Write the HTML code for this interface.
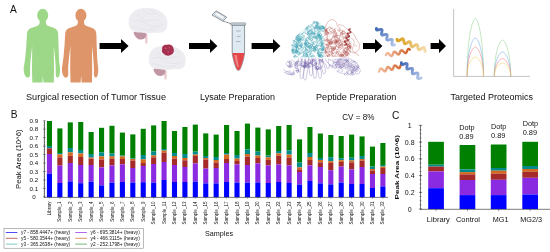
<!DOCTYPE html>
<html><head><meta charset="utf-8"><title>Figure</title>
<style>html,body{margin:0;padding:0;background:#fff}svg{display:block}text{font-family:"Liberation Sans",Arial,sans-serif;fill:#111}</style></head><body>
<svg width="550" height="252" viewBox="0 0 550 252">
<rect width="550" height="252" fill="#fff"/>
<text x="10" y="12.5" font-size="10.2">A</text>
<text x="10.8" y="118.3" font-size="10.2">B</text>
<text x="392" y="118.6" font-size="10.2">C</text>
<g transform="translate(0,0)" fill="#9dd888"><ellipse cx="42.7" cy="15.4" rx="5.5" ry="6.6"/><path d="M39.7,20 C39.7,23 39.5,24.6 38.5,25.2 C36,26.6 32.4,27.2 30,28.6 C27.8,30 27,32 26.9,35 C26.6,42 26.2,49 25.4,56 C25,60 24.6,62 24.2,65 C23.6,67 23.6,69.5 23.9,71.5 C24.3,74.5 25.2,76.6 26.6,77.4 C28,78 29.6,77.2 30,75.2 C30.2,73 29.9,70 30,67.5 C30.4,61 31.2,54 32.2,46 C32.2,54 32,62 32,70 L32.3,82.4 L42.4,82.4 L42.9,75.5 L43.4,82.4 L53.8,82.4 L54,70 C54,62 53.8,54 53.8,46 C54.8,54 55.4,61 55.7,67.5 C55.8,70 55.6,73 55.8,75.2 C56.1,77.2 57.2,78 58.2,77.4 C59.3,76.6 59.8,74.5 60,71.5 C60.2,69.5 60,67 59.6,65 C59.3,62 59.1,60 58.9,56 C58.6,49 58.4,42 58.2,35 C58.1,32 57.4,30 55.2,28.6 C53,27.2 49.6,26.6 47,25.2 C46,24.6 45.8,23 45.8,20 Z"/></g>
<g transform="translate(38.2,0)" fill="#de956a"><ellipse cx="42.7" cy="15.4" rx="5.5" ry="6.6"/><path d="M39.7,20 C39.7,23 39.5,24.6 38.5,25.2 C36,26.6 32.4,27.2 30,28.6 C27.8,30 27,32 26.9,35 C26.6,42 26.2,49 25.4,56 C25,60 24.6,62 24.2,65 C23.6,67 23.6,69.5 23.9,71.5 C24.3,74.5 25.2,76.6 26.6,77.4 C28,78 29.6,77.2 30,75.2 C30.2,73 29.9,70 30,67.5 C30.4,61 31.2,54 32.2,46 C32.2,54 32,62 32,70 L32.3,82.4 L42.4,82.4 L42.9,75.5 L43.4,82.4 L53.8,82.4 L54,70 C54,62 53.8,54 53.8,46 C54.8,54 55.4,61 55.7,67.5 C55.8,70 55.6,73 55.8,75.2 C56.1,77.2 57.2,78 58.2,77.4 C59.3,76.6 59.8,74.5 60,71.5 C60.2,69.5 60,67 59.6,65 C59.3,62 59.1,60 58.9,56 C58.6,49 58.4,42 58.2,35 C58.1,32 57.4,30 55.2,28.6 C53,27.2 49.6,26.6 47,25.2 C46,24.6 45.8,23 45.8,20 Z"/></g>
<path d="M99.6,43 H121 V39 L128.6,46 L121,53 V49 H99.6 Z" fill="#000"/>
<path d="M189,43 H210 V39 L217.4,46 L210,53 V49 H189 Z" fill="#000"/>
<path d="M251.6,43 H273 V39 L280.4,46 L273,53 V49 H251.6 Z" fill="#000"/>
<path d="M363,43 H375 V39 L382.4,46 L375,53 V49 H363 Z" fill="#000"/>
<path d="M430.6,43 H439 V39 L446,46 L439,53 V49 H430.6 Z" fill="#000"/>
<g transform="translate(128.6,7.8) scale(1.0)">
<path d="M16.2,26 L19,26.5 L18.8,35.6 L16.6,35.6 Z" fill="#ecc9cd"/>
<path d="M5,24.5 C7,23.6 14,24 17.6,25 C18,28.5 16.4,31.6 12.6,31.8 C8.6,32 5.6,28.5 5,24.5 Z" fill="#c096a5"/>
<path d="M0.2,17 C-1,8 4,1.2 14,0.4 C22,-0.6 31,1 35.4,6.5 C39.6,11 40,19 36.8,22.6 C33,26 27,24.4 24,25 C20,26 16,25.4 12,24.8 C6,24.8 1,23 0.2,17 Z" fill="#ededf1"/>
<g fill="none" stroke="#dadae0" stroke-width="0.5"><path d="M4,14 C9,11 14,13 18,16 S28,20 34,17"/><path d="M8,6 C12,8 13,12 17,13 S26,10 30,13"/><path d="M15,2 C17,6 21,7 24,6 S30,6 33,9"/><path d="M3,19 C8,19 12,21 16,22 S24,22 28,21"/><path d="M21,1.5 C22,4 25,4 27,3"/></g>
</g>
<g transform="translate(148.6,45.6) scale(0.955)">
<path d="M16.2,26 L19,26.5 L18.8,35.6 L16.6,35.6 Z" fill="#ecc9cd"/>
<path d="M5,24.5 C7,23.6 14,24 17.6,25 C18,28.5 16.4,31.6 12.6,31.8 C8.6,32 5.6,28.5 5,24.5 Z" fill="#c096a5"/>
<path d="M0.2,17 C-1,8 4,1.2 14,0.4 C22,-0.6 31,1 35.4,6.5 C39.6,11 40,19 36.8,22.6 C33,26 27,24.4 24,25 C20,26 16,25.4 12,24.8 C6,24.8 1,23 0.2,17 Z" fill="#ededf1"/>
<g fill="none" stroke="#dadae0" stroke-width="0.5"><path d="M4,14 C9,11 14,13 18,16 S28,20 34,17"/><path d="M8,6 C12,8 13,12 17,13 S26,10 30,13"/><path d="M15,2 C17,6 21,7 24,6 S30,6 33,9"/><path d="M3,19 C8,19 12,21 16,22 S24,22 28,21"/><path d="M21,1.5 C22,4 25,4 27,3"/></g>
</g>
<g transform="translate(148.2,45.4)"><path d="M14,3.6 C13.4,0.6 16.4,-1.2 19,-0.6 C21.6,-1.4 25,0 25.2,3 C26.6,5.4 25,8.6 22.6,9.4 C20.6,10.8 17.4,10.4 15.8,8.6 C13.8,7.6 13.2,5.4 14,3.6 Z" fill="#a62e4e"/><g fill="#c0627c"><circle cx="17.4" cy="3" r="0.8"/><circle cx="21.4" cy="2.4" r="0.7"/><circle cx="20" cy="6.4" r="0.8"/><circle cx="23" cy="5.6" r="0.6"/></g></g>
<g stroke="#4f5860" stroke-width="0.6" stroke-linejoin="round">
<path d="M212,15 L216,10.8 L226.8,17.2 L223,21.2 Z" fill="#e4edf5"/>
<path d="M214,14.6 L216.6,12 L225,17 L222.6,19.6 Z" fill="#f4f8fb" stroke-width="0.3"/>
<path d="M223,21.2 L231,23.6" fill="none"/>
<path d="M232.2,25 L232.2,53 C233,59 234.6,64.6 236.2,68 C237.2,71.2 239.6,71.2 240.6,68 C242.2,64.6 243.8,59 244.6,53 L244.6,25 Z" fill="#dfe9f2"/>
<path d="M232.4,53 C233.2,59 234.8,64.6 236.4,68 C237.4,70.8 239.4,70.8 240.4,68 C242,64.6 243.6,59 244.4,53 Z" fill="#e4474a" stroke="none"/>
<path d="M234.4,55 C235,60 236.2,64 237.4,66.5 C237.8,68 238.6,68 238.6,66 C238,62 237.2,58 236.8,55 Z" fill="#ef8684" stroke="none"/>
<rect x="230.6" y="23" width="15" height="2" rx="0.6" fill="#e9f0f6"/>
<path d="M236,31 H240.6 M236,41.6 H240.6 M237,36.4 H240.6" fill="none" stroke-width="0.35"/>
</g>
<clipPath id="ct"><polygon points="291.5,57.6 291.5,42 296,36 303,30 309,24.5 315,20.8 320,23 324.5,27 324.5,57.6"/></clipPath><g clip-path="url(#ct)">
<path d="M314.2,21.3 313.0,21.4 312.3,22.3 312.8,23.3 313.9,23.6 314.9,23.1 315.2,22.0 314.3,21.2 313.2,21.4 312.8,22.5 313.6,23.3 314.6,22.8 314.4,21.7 313.2,21.6 M309.6,23.7 310.5,24.4 311.6,24.8 312.7,24.6 313.4,23.7 313.7,22.6 313.7,21.4 313.0,20.5 M314.8,22.0 315.4,22.9 316.3,23.6 317.4,24.0 317.7,25.1 317.1,26.1 316.0,26.4 315.3,25.5 315.5,24.4 316.2,23.5 317.3,23.0 317.4,21.9 316.4,21.5 315.7,22.4 316.4,23.3 317.5,23.4 318.3,22.5 317.8,21.5 316.7,21.7 M315.7,21.5 316.9,21.4 318.0,21.8 318.6,22.7 318.3,23.9 317.2,23.9 316.5,22.9 317.0,21.9 318.1,21.8 318.5,22.9 317.7,23.8 316.7,23.2 316.9,22.1 M321.0,23.7 319.9,24.1 318.8,24.1 317.9,23.5 317.2,22.5 316.8,21.5 316.6,20.3 317.0,19.3 M324.4,24.3 325.4,25.0 325.6,26.1 324.9,27.0 323.8,27.0 322.8,26.5 322.2,25.5 322.8,24.5 323.9,24.8 324.2,25.9 323.6,26.8 322.5,26.9 321.7,26.1 322.2,25.0 323.3,25.1 323.5,26.3 322.5,26.8 321.7,25.9 M306.9,25.6 307.6,26.5 307.7,27.6 306.9,28.5 305.8,28.4 305.5,27.3 306.5,26.7 307.5,27.3 307.1,28.4 306.0,28.8 305.7,29.9 306.6,30.6 M309.8,26.6 310.9,26.1 312.0,26.0 312.9,26.7 313.1,27.8 312.2,28.6 311.1,28.2 310.6,27.1 311.0,26.0 311.6,25.0 312.7,25.0 313.5,25.8 313.8,26.9 313.9,28.1 314.1,29.2 314.1,30.4 M314.6,26.7 315.4,26.0 316.5,25.4 317.5,25.0 318.7,25.0 319.6,25.7 320.2,26.7 320.8,27.7 321.5,28.5 320.9,29.5 319.8,29.5 319.3,28.5 319.5,27.4 320.1,26.4 320.9,25.5 M317.5,25.2 316.4,25.5 316.1,26.6 317.0,27.3 318.0,26.7 318.2,25.6 317.6,24.6 316.5,24.2 315.7,25.0 315.5,26.1 316.3,26.9 317.4,27.1 318.2,26.2 318.3,25.1 317.4,24.5 316.4,25.1 M321.0,26.1 319.8,26.0 319.4,27.0 320.0,28.0 321.2,28.0 321.4,26.9 320.4,26.3 319.6,27.1 320.2,28.1 321.3,27.8 321.3,26.7 322.4,26.2 323.5,26.4 M323.5,24.8 324.7,24.5 325.6,25.1 325.5,26.3 324.8,27.1 323.7,27.0 323.4,25.9 324.1,25.0 325.2,24.9 325.7,25.9 324.9,26.7 323.9,26.2 323.0,26.8 322.6,27.9 323.4,28.8 324.6,28.6 324.7,27.5 323.8,26.8 322.8,27.2 322.9,28.4 M324.7,24.5 324.4,25.7 323.9,26.7 323.8,27.8 324.4,28.8 325.6,28.7 326.2,27.8 325.9,26.7 324.9,26.0 323.8,26.2 323.0,27.0 322.9,28.2 323.0,29.3 323.5,30.3 M303.5,27.4 303.6,28.6 302.7,29.2 301.8,28.5 M307.5,28.2 306.4,27.8 306.0,26.8 306.3,25.7 307.2,25.1 308.4,25.3 309.4,25.8 309.9,26.9 309.3,27.9 308.2,28.1 307.1,27.9 306.7,26.8 307.5,26.0 308.5,26.6 M311.1,29.3 311.8,30.2 311.7,31.3 310.6,31.6 309.7,30.8 309.5,29.7 310.4,28.9 311.5,29.0 312.2,29.9 312.3,31.1 312.3,32.2 311.9,33.3 311.1,34.1 309.9,34.4 308.9,33.9 308.1,33.1 307.4,32.1 307.2,31.0 M312.4,29.8 311.4,30.2 310.3,30.7 309.2,30.8 308.1,30.6 307.4,29.6 307.2,28.5 307.5,27.4 308.5,26.8 308.6,25.7 307.9,24.7 307.0,24.0 308.2,24.0 309.0,23.3 M317.5,27.9 316.9,28.8 315.8,28.4 315.8,27.2 316.7,26.5 317.9,26.5 318.8,27.2 319.3,28.2 319.3,29.3 320.2,30.0 321.2,29.5 320.9,28.4 M319.5,30.0 319.6,28.9 320.0,27.8 319.3,26.9 318.1,26.8 317.5,27.7 317.6,28.9 318.7,29.3 319.5,28.5 318.9,27.5 317.7,27.5 317.5,28.7 318.5,29.2 319.3,28.4 319.0,27.3 318.0,26.6 316.9,27.0 316.7,28.1 M323.8,27.7 323.7,28.8 324.5,29.6 325.6,29.4 325.7,28.2 324.6,27.9 323.9,28.8 324.7,29.7 325.8,29.6 326.3,28.5 325.4,27.8 324.5,28.4 324.8,29.6 325.9,29.5 326.2,28.4 325.2,27.8 324.4,28.6 325.0,29.7 326.1,29.6 325.6,30.7 M325.1,28.6 324.8,27.5 323.9,26.8 322.8,26.4 321.7,26.6 320.9,27.5 321.4,28.5 322.4,29.0 323.5,28.6 324.2,27.7 324.5,26.6 325.0,25.5 325.1,24.4 M302.6,30.7 301.4,30.6 300.5,29.9 300.9,31.0 300.6,32.2 299.9,33.1 299.1,33.9 298.3,34.7 297.5,35.6 296.6,36.3 295.8,37.1 295.4,38.2 295.3,39.3 296.3,40.0 297.4,40.0 298.2,40.8 298.6,41.9 298.1,43.0 M303.9,31.6 303.7,32.8 302.9,33.5 301.8,33.9 300.7,34.2 299.6,34.6 298.6,35.1 297.8,35.9 297.2,36.9 297.1,38.0 297.2,39.2 297.9,40.1 299.0,40.4 300.1,40.1 300.6,39.0 300.1,38.0 299.0,38.0 298.6,39.0 299.5,39.7 300.6,39.3 300.7,38.2 M308.7,30.7 309.7,31.2 310.5,32.0 310.5,33.2 310.2,34.3 309.4,35.1 308.2,35.2 307.4,34.4 307.2,33.3 308.1,32.6 309.1,33.2 309.1,34.3 308.0,34.6 306.9,34.1 306.8,33.0 307.8,32.5 308.5,33.4 M311.3,30.7 310.1,30.9 309.0,31.1 308.0,31.7 308.1,32.8 309.2,33.1 309.8,32.1 309.2,31.1 308.1,31.3 307.9,32.5 309.0,32.9 M312.4,33.0 311.2,33.1 310.1,33.3 309.2,34.0 308.8,35.1 309.1,36.2 310.2,36.5 310.8,35.6 310.3,34.5 309.2,34.8 309.1,35.9 310.2,36.3 311.2,35.7 311.7,34.7 312.1,33.6 312.8,32.7 313.4,31.7 314.6,31.8 315.3,32.8 314.9,33.9 M316.6,30.9 317.6,30.3 317.8,29.2 317.1,28.3 315.9,28.4 315.1,29.2 314.1,28.6 314.3,27.5 315.5,27.4 316.1,28.3 315.4,29.2 314.3,28.8 314.0,27.7 314.8,26.9 315.9,26.7 316.6,27.6 316.2,28.6 315.0,28.4 314.9,27.3 316.0,26.9 M318.8,31.0 318.2,30.0 317.5,29.1 317.8,28.0 318.9,27.5 319.9,28.0 320.6,28.9 320.5,30.0 319.9,31.1 318.9,31.6 317.9,32.1 316.7,32.2 315.7,31.6 314.8,30.9 314.4,29.9 314.6,28.7 M322.6,31.6 323.7,31.7 324.7,31.2 325.1,30.1 324.4,29.1 323.3,29.1 322.4,29.8 322.6,30.9 321.7,31.6 320.5,31.5 319.9,30.6 M326.1,31.4 325.9,30.3 325.4,29.3 324.5,28.6 323.3,28.4 322.2,28.3 321.0,28.5 319.9,28.5 318.7,28.3 317.8,27.6 317.1,26.8 316.9,25.6 317.3,24.6 318.1,23.7 M298.0,33.3 298.0,32.2 299.1,32.3 299.9,31.4 300.0,30.2 300.8,29.5 302.0,29.3 303.1,29.1 304.2,29.4 305.0,30.2 305.2,31.4 305.4,32.5 305.7,33.6 M302.0,33.1 302.0,34.2 301.9,35.4 301.9,36.5 302.8,37.2 304.0,37.1 304.5,36.1 303.7,35.3 302.6,35.4 301.8,34.5 302.2,33.4 303.2,32.8 304.3,32.8 305.4,33.2 306.4,33.8 307.2,34.6 M304.0,34.9 304.3,36.0 303.9,37.1 303.0,37.8 302.0,38.3 301.1,39.1 300.7,40.1 300.8,41.3 301.0,42.4 301.4,43.5 301.7,44.6 301.7,45.7 301.7,46.9 301.3,48.0 300.4,48.6 299.3,48.7 298.2,48.2 297.7,47.2 297.5,46.1 M307.4,35.1 307.9,34.0 308.2,32.9 308.2,31.8 307.5,30.8 306.8,29.9 306.0,29.0 305.1,28.4 303.9,28.2 303.0,28.8 302.2,29.6 301.3,30.4 300.9,31.5 M310.7,33.7 311.5,32.8 311.5,31.7 311.0,30.6 310.3,29.8 309.2,29.4 308.1,29.2 306.9,28.9 306.0,28.3 305.4,27.3 305.2,26.2 M312.7,34.2 313.0,33.1 314.1,32.8 314.8,33.7 314.2,34.6 313.0,34.8 312.5,33.7 313.1,32.8 314.3,33.0 314.8,34.0 314.0,34.8 312.8,34.6 312.0,33.8 311.5,32.8 311.7,31.7 312.8,31.4 313.6,32.2 313.0,33.2 311.9,32.9 311.0,33.6 311.2,34.7 M316.3,33.8 315.6,34.7 314.5,34.2 314.3,33.1 314.7,32.0 315.4,31.1 316.5,30.7 317.6,30.5 318.7,30.9 319.6,31.6 319.9,32.7 319.1,33.6 318.0,33.4 318.0,32.2 319.1,31.9 319.7,32.8 319.0,33.7 317.9,33.2 318.1,32.1 M318.4,35.6 319.5,35.9 320.7,35.7 321.4,34.8 321.2,33.6 320.1,33.4 319.4,34.3 319.5,35.4 320.5,36.1 321.5,35.5 321.5,34.4 320.6,33.7 319.7,34.3 319.9,35.4 321.1,35.5 321.6,36.5 321.2,37.6 M322.3,35.4 321.1,35.5 320.0,35.6 318.8,35.5 317.7,35.8 316.8,36.5 316.1,37.4 315.7,38.4 314.5,38.6 313.5,38.0 313.3,36.9 313.8,35.8 314.8,35.3 315.8,36.0 315.8,37.2 314.9,38.0 313.8,37.9 312.9,37.2 M325.2,34.6 325.2,33.5 324.5,32.6 323.6,31.8 322.8,31.1 321.8,30.4 320.8,29.9 320.8,28.7 321.4,27.8 322.2,27.0 323.3,26.7 324.4,27.2 324.4,28.3 323.4,28.8 322.6,28.0 323.3,27.0 324.4,27.4 324.3,28.5 M295.9,37.2 296.0,36.0 297.1,35.6 298.0,36.2 297.9,37.4 296.8,37.6 296.0,36.8 296.3,35.7 297.4,35.3 298.2,36.2 298.2,37.3 M300.7,38.4 301.8,38.7 302.4,37.7 301.8,36.8 300.7,37.2 300.5,38.3 301.2,39.2 302.1,40.0 303.2,39.6 303.4,38.5 302.9,37.5 301.9,37.0 300.8,36.6 299.6,36.5 298.5,36.2 297.8,35.3 298.1,34.2 299.2,33.9 M301.6,38.1 301.0,39.1 300.1,39.8 299.0,40.1 297.9,39.6 297.3,38.7 297.7,37.6 298.8,37.4 299.3,38.4 298.8,39.4 297.9,40.1 296.8,39.9 296.0,39.1 296.1,38.0 296.9,37.2 298.1,37.3 298.4,38.4 297.5,39.1 296.5,38.6 296.8,37.5 M306.5,36.8 307.5,37.4 308.6,37.8 309.7,37.9 310.2,38.9 309.3,39.7 308.4,39.0 308.8,37.9 309.9,37.7 310.5,38.7 309.8,39.6 308.7,39.1 308.4,38.0 308.9,37.0 M308.4,38.2 309.1,39.2 310.0,39.8 311.0,40.3 312.0,40.9 312.7,41.9 313.3,42.8 313.8,43.9 314.5,44.8 315.5,45.4 316.5,44.9 317.0,43.8 317.1,42.7 316.5,41.7 315.3,41.5 314.2,41.7 M311.1,37.8 312.2,37.5 313.3,37.1 314.4,36.8 315.5,37.1 316.6,37.5 317.8,37.5 318.8,37.0 319.5,36.1 320.0,35.1 319.2,34.2 318.2,34.7 318.1,35.8 319.1,36.3 319.9,35.5 319.3,34.5 318.2,34.8 M312.4,38.0 313.6,38.0 313.9,36.9 313.1,36.1 311.9,35.9 311.3,34.9 311.5,33.8 312.2,32.9 313.3,32.7 314.3,33.3 314.7,34.3 314.5,35.4 314.2,36.5 313.9,37.6 M316.0,36.2 315.7,37.4 316.3,38.4 317.2,39.0 318.4,39.0 319.2,38.2 319.1,37.1 318.0,36.8 317.0,37.4 316.5,38.4 316.8,39.5 317.7,40.2 318.7,40.6 M319.2,36.0 318.9,37.2 319.2,38.3 320.3,38.4 321.0,37.5 320.3,36.6 319.2,36.8 319.1,38.0 320.2,38.3 320.9,37.4 320.6,36.3 319.4,36.0 318.6,36.8 M321.3,37.1 320.5,36.3 319.4,36.1 318.5,36.8 317.6,36.1 317.5,35.0 318.1,34.0 319.3,34.1 319.5,35.2 318.5,35.7 317.5,35.2 316.3,35.5 315.4,36.1 314.8,37.1 315.2,38.2 316.4,38.2 316.9,37.2 316.2,36.4 315.1,36.8 315.0,38.0 315.7,38.9 M324.1,36.3 323.0,36.7 322.0,37.2 321.1,37.8 320.2,38.6 319.5,39.5 319.5,40.7 320.0,41.7 321.1,41.7 321.4,40.6 320.4,40.0 319.3,40.4 318.6,41.3 319.2,42.3 320.3,42.4 M293.1,40.4 294.2,40.9 295.2,41.4 296.0,42.2 296.7,43.1 296.2,44.1 295.1,43.8 294.1,44.4 294.0,45.6 294.3,46.7 295.2,47.4 296.3,47.1 297.1,46.3 297.1,45.1 296.4,44.2 295.3,44.4 295.1,45.5 296.1,46.0 296.9,45.2 M297.4,40.6 296.6,39.8 296.4,38.7 297.0,37.7 297.7,36.8 298.4,35.9 299.4,35.3 300.5,35.6 300.8,36.7 299.9,37.5 298.9,36.9 298.0,37.5 298.1,38.6 299.3,38.9 M298.9,41.0 298.5,40.0 299.2,39.0 300.3,39.2 300.5,40.3 299.4,40.8 298.7,39.9 299.3,38.9 300.4,39.3 300.7,40.4 300.4,41.5 299.6,42.3 298.5,42.0 298.1,40.9 299.0,40.2 300.0,40.8 299.9,41.9 298.9,42.5 297.9,42.0 297.6,40.9 298.4,40.2 M302.1,39.4 302.5,40.4 303.4,41.2 304.3,41.9 305.4,42.3 306.4,42.9 306.3,44.1 305.3,44.6 304.5,43.8 305.0,42.8 306.2,43.1 306.3,44.2 305.3,44.7 304.6,43.8 305.2,42.9 306.3,43.1 306.5,44.2 305.4,44.7 304.7,43.8 305.4,42.8 M304.7,40.4 305.8,40.2 306.8,40.8 307.1,41.9 306.1,42.5 305.2,41.8 305.3,40.6 306.3,40.1 307.4,40.4 308.0,41.4 307.2,42.2 306.0,42.2 305.6,41.1 306.2,40.1 305.9,39.0 304.8,38.5 M307.3,40.7 306.6,39.9 306.1,38.8 305.0,38.5 303.9,39.0 303.5,40.0 302.4,40.4 301.3,40.2 300.2,39.8 299.4,39.0 298.6,38.1 297.5,38.6 297.5,39.7 298.6,40.2 299.6,39.6 300.2,38.6 299.9,37.5 299.4,36.4 299.0,35.4 298.6,34.3 M310.1,39.7 310.6,38.7 311.7,38.4 312.6,39.0 312.5,40.1 311.3,40.3 310.8,39.3 311.6,38.5 312.6,38.9 312.6,40.1 311.8,40.9 310.7,41.2 309.5,41.2 308.5,40.7 M313.7,41.1 313.8,42.3 313.5,43.4 312.5,43.9 311.4,43.9 310.3,43.7 309.1,43.4 308.0,43.1 306.9,43.0 305.8,43.3 305.2,44.3 305.5,45.4 306.2,46.3 307.2,46.9 M316.2,40.0 317.3,39.7 317.6,38.6 316.7,37.9 316.5,36.8 316.9,35.7 317.7,35.0 318.9,35.0 319.6,36.0 318.9,36.9 317.8,37.0 317.3,35.9 317.8,34.9 318.9,34.9 M320.0,39.4 321.1,39.0 321.2,37.8 320.1,37.4 319.4,38.3 319.6,39.4 320.7,39.8 321.5,39.0 321.3,37.8 320.6,36.9 319.7,36.3 318.8,35.6 318.0,34.7 317.7,33.6 M321.2,39.7 321.0,38.6 320.9,37.5 320.6,36.4 320.0,35.4 319.1,34.6 318.1,34.2 317.0,33.9 315.9,33.5 314.7,33.5 313.6,33.5 312.4,33.5 M290.8,42.2 290.8,43.4 290.6,44.5 290.4,45.6 290.2,46.8 290.0,47.9 289.9,49.1 290.0,50.2 289.8,51.3 M293.7,42.7 294.4,41.8 295.5,41.5 296.6,41.9 297.0,43.0 297.0,44.1 296.8,45.3 296.4,46.4 296.1,47.5 296.1,48.6 295.2,49.4 294.1,49.2 293.7,48.1 M296.4,43.0 296.9,44.0 297.6,44.9 298.3,45.8 299.5,46.0 300.4,45.3 300.4,44.1 299.4,43.4 298.3,43.5 297.4,44.2 296.8,45.2 M299.8,42.8 300.3,43.8 301.4,44.2 302.5,44.0 303.6,43.8 304.6,43.2 305.1,42.2 305.6,41.2 306.2,40.1 306.5,39.0 306.8,37.9 307.4,37.0 308.4,36.3 309.5,36.5 309.7,37.7 310.8,37.9 M301.2,42.6 300.1,42.8 299.0,42.8 297.8,42.6 296.8,42.1 295.9,41.4 294.8,40.9 293.7,40.5 292.8,39.9 291.8,39.2 292.6,40.1 293.0,41.2 293.3,42.3 293.4,43.4 293.1,44.5 292.1,45.1 M304.4,43.0 304.8,44.1 305.3,45.1 306.3,45.7 307.4,45.6 308.3,44.8 308.5,43.6 308.0,42.6 306.9,42.3 306.4,43.3 306.9,44.4 308.0,44.7 308.8,43.9 308.6,42.7 M309.0,42.9 308.6,44.0 307.7,44.6 307.3,45.7 307.7,46.8 308.7,47.3 309.8,46.8 310.2,45.7 309.8,44.6 309.1,43.7 308.2,43.0 307.4,42.1 307.0,41.1 306.8,39.9 307.4,39.0 308.3,38.2 309.0,37.3 309.9,36.5 311.0,36.4 312.2,36.6 M310.8,44.2 310.5,43.0 311.1,42.1 312.3,42.2 313.1,43.0 313.2,44.1 312.2,44.8 311.1,44.8 310.0,44.5 309.2,43.7 308.6,42.7 M314.7,43.7 313.8,44.3 312.9,45.0 312.0,45.8 311.2,46.6 310.9,47.7 311.2,48.8 312.1,49.6 313.2,50.0 314.2,49.5 314.8,48.6 314.4,47.5 313.4,47.0 M317.4,42.1 317.5,43.3 318.4,44.0 319.5,44.0 320.6,43.7 321.4,42.8 321.6,41.7 321.6,40.5 321.0,39.5 321.7,38.6 322.8,38.8 323.2,39.9 322.4,40.7 321.4,40.2 321.6,39.1 M320.5,44.6 321.6,45.0 322.7,44.9 323.4,45.8 323.0,46.9 321.8,47.1 320.8,46.6 320.8,45.5 321.6,44.7 322.8,44.8 323.3,45.9 322.4,46.6 321.4,46.1 321.5,45.0 322.7,44.9 323.2,43.9 322.5,43.0 321.4,43.0 320.9,44.0 321.3,45.1 322.4,45.3 M323.6,42.7 323.0,43.7 321.9,43.7 321.4,42.7 322.2,41.8 323.3,42.2 323.8,43.3 323.1,44.2 321.9,44.2 321.4,43.1 321.7,42.1 322.4,41.1 323.4,40.6 324.5,40.3 325.7,40.1 324.6,39.7 323.6,39.0 323.1,38.0 322.6,36.9 M291.0,45.8 291.5,44.7 290.6,44.0 289.6,44.7 290.0,45.8 291.1,46.1 291.7,45.1 291.0,44.3 289.9,44.8 290.2,45.9 291.3,46.0 292.1,45.1 293.2,45.4 293.6,46.5 293.0,47.5 291.9,47.9 291.5,48.9 292.0,49.9 293.2,49.8 293.6,48.7 M295.0,45.3 293.8,45.0 292.7,45.2 292.1,46.1 292.6,47.2 293.8,47.3 294.3,46.3 295.4,46.0 296.1,46.8 297.3,46.9 298.4,46.5 299.0,45.6 298.9,44.4 298.0,43.7 296.9,43.9 M296.9,45.8 295.9,46.4 296.0,47.5 296.9,48.3 297.8,47.6 297.4,46.5 296.4,46.1 295.5,46.9 296.1,47.9 297.2,47.7 297.3,46.5 296.4,45.8 295.4,46.3 295.1,47.4 295.9,48.2 297.0,48.2 297.4,47.1 296.8,46.1 297.4,45.1 298.6,45.1 M300.7,47.2 300.3,46.1 299.5,45.3 298.6,44.6 297.9,43.7 297.1,42.8 296.9,41.7 297.4,40.6 298.5,40.4 299.6,40.8 300.5,41.4 301.5,42.1 302.3,42.9 302.6,44.0 302.5,45.2 301.7,46.0 M301.8,46.2 300.7,45.9 300.6,44.7 301.7,44.4 302.6,45.1 302.6,46.3 301.7,47.1 300.6,47.0 299.7,46.2 299.8,45.1 300.8,44.5 301.6,45.3 301.4,46.5 300.4,47.0 299.5,46.2 299.7,45.0 300.8,44.8 M304.9,46.7 304.0,47.5 303.2,48.3 302.5,49.1 301.7,50.0 300.8,50.8 299.8,51.3 298.7,51.3 297.6,50.8 296.8,50.0 295.6,49.9 294.9,50.8 295.3,51.9 296.3,52.4 297.3,51.9 297.6,50.8 296.6,50.2 295.5,50.6 294.8,51.5 294.6,52.7 295.3,53.6 M309.4,45.9 308.2,45.7 307.1,45.8 306.0,45.5 304.9,45.0 304.6,43.9 305.4,43.0 306.4,43.5 306.7,44.6 306.1,45.6 305.0,45.4 304.6,44.3 305.4,43.5 306.5,43.8 M311.4,46.8 311.5,47.9 312.5,48.4 313.3,47.5 314.4,47.3 315.2,48.1 315.4,49.3 314.7,50.2 313.7,50.9 312.6,51.2 311.6,50.7 311.6,49.5 312.4,48.8 313.6,48.6 314.7,48.7 315.8,48.9 316.8,49.6 317.3,50.6 317.8,51.7 317.9,52.8 317.2,53.7 M313.0,44.8 311.8,44.6 310.7,44.9 309.9,45.7 309.5,46.8 310.1,47.8 311.2,47.9 311.9,47.0 311.2,46.1 310.0,46.2 309.6,47.3 310.3,48.2 311.3,47.7 311.3,46.6 310.3,46.0 309.2,46.3 308.9,47.4 309.5,48.4 M317.9,45.2 319.0,45.6 320.2,45.7 321.3,46.1 322.3,45.6 323.1,44.8 323.2,43.6 322.4,42.8 321.3,43.1 321.4,44.3 322.5,44.6 323.4,43.9 M318.3,45.7 317.3,45.1 316.1,45.2 315.4,46.1 316.0,47.1 317.1,47.1 317.8,46.2 317.1,45.3 316.0,45.7 315.8,46.8 316.7,47.5 317.6,46.7 317.4,45.6 316.3,45.3 315.3,45.9 315.1,47.0 315.6,48.0 316.8,47.9 317.0,46.8 M321.6,45.6 320.7,46.4 319.6,46.3 318.8,45.5 319.0,44.4 319.7,43.4 320.4,42.6 321.0,41.6 321.2,40.4 321.1,39.3 320.5,38.3 319.5,37.9 318.3,37.9 317.4,38.5 316.7,39.4 316.2,40.5 M324.3,46.0 325.1,46.9 326.0,47.4 325.1,46.7 324.1,46.2 323.2,46.8 323.6,47.9 324.7,47.8 324.9,46.7 323.9,46.2 322.9,46.7 322.6,47.8 323.1,48.8 324.2,49.1 325.2,48.5 325.0,47.4 323.9,47.2 323.4,48.3 324.3,49.1 M294.4,49.8 294.0,50.9 292.9,51.1 292.1,50.2 292.8,49.2 293.9,49.6 294.1,50.7 293.1,51.3 292.1,50.8 291.7,49.7 292.6,49.0 293.5,49.6 293.1,50.7 292.0,50.6 291.8,49.5 292.8,49.0 293.6,49.8 293.0,50.8 291.9,50.5 291.9,49.3 293.0,49.0 M295.7,50.0 296.4,50.9 297.3,51.5 297.2,52.6 296.0,52.8 295.6,51.7 296.2,50.7 297.3,51.0 297.4,52.1 296.4,52.7 295.6,52.0 296.0,50.9 297.2,50.9 297.7,51.9 297.1,52.9 296.0,53.3 295.1,52.6 295.6,51.5 M299.4,48.2 299.1,49.3 298.4,50.3 297.6,51.0 296.5,51.3 295.6,50.6 295.6,49.4 296.5,48.7 297.6,48.7 298.7,49.0 299.9,49.1 300.9,49.6 301.6,50.5 301.8,51.6 301.5,52.8 300.8,53.6 299.6,53.6 M302.7,47.7 301.7,47.1 300.7,46.6 299.6,46.2 298.7,45.5 297.9,44.7 296.9,44.1 295.9,43.6 294.8,43.2 293.9,42.5 293.9,41.4 294.5,40.4 295.4,39.7 296.5,39.7 296.9,40.8 M305.4,50.4 304.2,50.5 303.7,51.5 303.8,52.6 304.4,53.6 305.6,53.8 306.5,53.1 307.4,53.8 307.4,54.9 306.8,55.9 305.8,56.4 304.8,55.8 305.1,54.7 306.2,54.5 307.0,55.4 306.7,56.5 305.6,56.6 305.2,55.5 306.1,54.7 M307.9,47.9 309.1,47.9 309.9,48.8 310.2,49.9 310.0,51.0 309.2,51.9 308.2,52.3 307.1,52.0 306.4,51.1 306.0,50.0 305.6,48.9 305.2,47.8 305.2,46.7 304.2,46.2 303.2,46.8 302.8,47.9 303.5,48.8 304.5,49.4 305.6,49.7 M310.6,50.3 310.2,49.2 309.9,48.1 309.3,47.1 308.4,46.4 307.2,46.3 306.1,46.6 305.9,47.7 306.7,48.4 307.7,47.8 307.6,46.6 306.5,46.4 305.7,47.3 305.8,48.5 306.3,49.5 307.2,50.2 308.4,50.2 M314.4,49.3 315.0,50.3 316.0,50.8 317.1,50.5 317.7,49.5 317.5,48.4 316.9,47.4 315.9,46.7 314.8,46.6 313.7,46.4 313.0,45.5 312.8,44.4 313.0,43.3 313.7,42.4 314.8,42.1 315.7,42.9 316.8,43.0 317.7,42.3 317.5,41.2 316.5,40.6 M316.4,49.0 315.3,48.6 314.2,48.7 313.4,49.5 313.7,50.6 314.8,51.0 315.8,50.3 315.4,49.2 314.3,49.2 313.8,50.3 314.5,51.1 M320.2,48.1 319.7,49.1 318.7,49.6 318.5,50.8 319.0,51.8 319.9,52.5 321.0,52.9 322.1,52.9 323.2,52.4 324.1,51.6 325.1,52.2 325.1,53.3 324.3,54.1 323.2,53.9 322.4,53.0 M323.7,50.4 324.4,49.5 323.9,48.4 322.9,48.0 321.8,48.4 321.4,49.5 321.7,50.6 322.9,50.9 323.8,50.2 323.3,49.2 322.2,49.0 321.7,50.0 320.6,50.3 319.7,49.6 320.1,48.5 M324.0,48.1 322.9,48.3 321.8,47.9 321.1,47.0 321.2,45.8 321.8,44.8 322.3,43.8 322.6,42.7 323.1,41.6 323.8,40.7 324.6,39.9 325.7,39.6 M294.9,51.1 293.8,51.1 292.7,50.9 291.9,50.1 290.8,50.5 290.5,51.6 291.5,52.3 292.4,51.7 292.1,50.6 290.9,50.6 290.4,51.6 291.3,52.4 292.2,51.8 291.9,50.7 M297.7,51.5 297.9,50.4 297.2,49.5 296.1,49.1 295.8,48.0 296.6,47.2 297.8,47.4 298.4,48.4 298.3,49.5 297.4,50.3 296.5,49.7 M298.1,51.9 297.2,51.2 296.1,51.3 295.5,52.3 296.3,53.1 297.5,53.1 297.9,52.0 297.4,51.0 296.3,50.8 295.3,51.3 295.0,52.4 295.9,53.1 296.8,52.5 296.5,51.4 M301.3,53.2 300.2,52.9 299.2,52.3 298.1,51.9 297.2,51.2 296.5,50.3 296.4,49.1 296.7,48.0 296.9,46.9 296.8,45.7 296.3,44.7 295.2,44.3 294.3,45.0 294.8,46.1 296.0,45.9 M304.9,51.4 305.9,50.8 306.0,49.6 305.7,48.5 305.2,47.5 305.1,46.3 305.2,45.2 306.1,44.5 307.3,44.6 308.1,45.3 308.6,46.4 308.8,47.5 309.0,48.6 309.4,49.7 310.1,50.6 310.7,51.6 311.8,51.4 312.3,50.4 M306.8,50.6 306.4,49.6 306.6,48.5 307.2,47.5 308.0,46.6 309.0,46.0 310.1,46.0 310.8,46.9 312.0,47.1 312.7,46.2 312.2,45.2 311.1,44.9 310.0,45.3 309.2,46.1 309.4,47.3 309.9,48.3 310.7,49.1 311.9,49.0 312.9,48.5 313.4,47.4 312.9,46.4 M311.6,51.5 311.5,52.6 310.5,53.2 309.3,53.3 308.5,52.5 308.9,51.4 310.0,51.5 310.7,52.4 310.6,53.5 309.9,54.5 308.9,54.9 307.7,54.7 306.8,53.9 306.9,52.8 M313.6,50.6 314.4,51.4 315.6,51.1 315.7,50.0 314.9,49.1 315.3,48.0 316.3,47.5 317.2,48.1 317.5,49.3 316.6,50.0 315.5,49.5 315.0,48.5 315.6,47.5 315.0,46.5 313.9,46.7 313.4,47.7 314.1,48.6 315.3,48.7 M315.4,52.9 314.6,52.1 313.9,51.2 313.4,50.1 313.9,49.1 314.9,48.5 314.8,47.3 313.7,47.1 313.2,48.2 314.0,48.9 315.0,48.3 314.8,47.2 313.8,46.6 312.6,46.5 M318.8,53.2 318.6,54.3 318.6,55.5 319.0,56.5 320.1,57.0 321.2,56.8 322.0,56.0 322.0,54.9 321.0,54.3 319.9,54.4 319.3,55.4 319.6,56.5 320.6,57.1 321.7,57.1 322.6,56.3 322.4,55.2 M323.2,53.2 322.6,52.3 321.5,52.1 320.7,52.9 320.5,54.0 321.0,55.0 321.9,55.8 323.0,56.3 324.1,56.1 325.0,55.4 325.8,54.6 M326.0,51.2 325.0,50.6 323.8,50.4 322.7,50.7 321.9,51.5 321.3,52.4 320.6,53.4 320.0,54.3 319.0,55.0 317.9,54.8 317.1,54.0 317.3,52.9 318.4,52.5 319.2,53.4 318.6,54.3 317.5,54.0 317.5,52.9 318.6,52.6 319.3,53.6 M294.0,53.8 292.9,53.4 292.9,52.3 294.0,52.0 294.6,53.0 294.1,54.0 292.9,53.8 292.8,52.7 293.7,52.0 293.5,50.9 292.4,50.8 292.0,51.9 292.6,52.9 293.7,52.5 294.2,51.5 M295.9,54.8 295.3,55.8 294.2,56.2 294.1,57.3 295.2,57.7 296.0,57.0 295.7,55.8 294.8,55.2 293.8,55.8 293.7,56.9 294.4,57.9 295.4,58.3 296.5,57.9 296.5,56.7 295.6,55.9 294.6,56.3 294.3,57.4 295.2,58.1 M299.6,53.6 298.5,53.2 297.7,54.0 298.2,55.0 299.3,54.9 299.8,53.9 298.9,53.1 297.9,53.7 298.1,54.8 299.2,55.1 300.2,54.5 300.7,53.5 300.3,52.4 299.1,52.3 298.3,53.1 M303.5,55.9 302.5,56.4 301.5,57.0 300.4,57.5 299.6,58.3 299.1,59.3 298.9,58.2 298.3,57.2 297.4,56.5 296.3,56.1 295.2,56.0 294.1,56.4 M303.9,56.0 304.4,57.0 304.4,58.2 304.4,59.3 M307.7,53.6 308.6,52.9 309.2,51.9 309.1,50.7 308.4,49.8 307.3,49.4 306.2,49.6 305.3,50.4 305.1,51.5 305.8,52.4 306.9,52.7 308.0,52.2 308.2,51.1 307.6,50.1 306.5,50.0 M311.6,56.0 310.6,55.5 309.8,54.7 309.7,53.5 310.6,52.9 311.8,53.1 312.6,53.9 312.9,55.0 312.2,55.9 311.2,56.5 310.0,56.5 309.4,55.5 310.0,54.6 311.2,54.7 311.8,55.7 311.5,56.8 310.6,57.6 309.5,57.8 308.5,57.2 M313.1,56.0 314.2,55.9 315.0,56.7 315.1,57.8 314.6,58.9 M317.7,55.8 317.9,54.7 317.8,53.5 317.7,52.4 317.7,51.2 318.0,50.1 318.8,49.3 319.7,48.5 320.8,48.2 321.9,47.9 323.0,47.8 324.1,47.3 325.0,46.7 325.9,45.9 325.3,46.9 324.9,48.0 324.5,49.0 323.7,49.9 322.5,49.8 321.5,49.2 320.5,48.7 M318.8,53.9 318.4,52.9 318.8,51.8 319.6,50.9 320.5,50.2 321.4,49.5 322.1,48.6 323.2,49.0 323.1,50.2 322.0,50.5 321.4,49.5 322.0,48.5 323.1,48.9 323.1,50.0 322.0,50.3 321.4,49.3 322.2,48.5 323.3,48.7 323.7,49.8 322.7,50.5 321.8,49.7 M321.1,54.8 322.3,54.9 323.0,55.8 322.8,56.9 321.8,57.5 320.6,57.4 319.7,56.7 319.2,55.6 318.9,54.6 318.8,53.4 318.7,52.3 318.7,51.1 318.9,50.0 318.9,48.8 M294.4,58.2 295.4,58.8 296.5,59.0 297.6,59.2 M300.7,57.6 301.7,57.2 302.8,56.6 303.6,55.9 303.9,54.8 303.8,53.6 303.4,52.5 303.0,51.5 302.8,50.3 302.4,49.2 301.8,48.3 301.2,47.3 301.0,46.2 300.9,45.0 M302.9,56.2 303.1,55.1 303.9,54.3 305.0,53.9 306.1,54.1 307.2,54.6 307.7,55.6 308.1,56.7 308.4,57.8 308.6,59.0 308.4,57.8 308.2,56.7 307.7,55.7 307.2,54.6 306.6,53.6 305.8,52.8 304.9,52.1 303.9,51.7 302.8,52.0 302.5,53.1 303.5,53.7 M304.1,56.9 305.2,57.3 306.1,58.0 306.2,59.1 306.4,58.0 306.8,56.9 307.4,56.0 307.2,54.8 306.1,54.6 305.3,55.5 305.7,56.6 306.9,56.5 M310.0,56.7 309.0,57.3 307.9,57.1 307.2,56.1 307.0,55.0 306.6,53.9 306.3,52.8 305.2,52.5 304.2,53.0 303.8,54.1 303.7,55.3 M315.1,58.7 314.1,59.2 312.9,59.3 312.0,58.5 312.0,57.4 312.7,56.5 313.8,56.8 313.8,58.0 312.7,58.3 312.0,57.4 312.2,56.3 313.1,55.5 314.2,55.4 315.0,56.2 M319.9,56.6 318.8,56.3 318.6,55.2 319.7,54.8 320.7,55.4 320.5,56.5 319.4,56.7 318.8,55.8 319.5,54.9 320.6,55.3 320.5,56.4 319.3,56.7 318.7,55.7 319.3,54.8 320.4,55.1 321.3,54.4 321.7,53.3 321.2,52.3 320.0,52.4 319.3,51.5 M323.6,56.5 323.0,57.4 321.9,57.8 320.8,57.9 319.6,57.7 318.7,57.0 318.7,55.8 319.8,55.4 320.5,56.3 319.8,57.2 318.7,56.8 318.8,55.7 319.8,55.1 320.7,55.8 320.3,56.8 319.1,56.7 318.9,55.6 319.7,54.8 320.8,55.1 321.4,56.1" fill="none" stroke="#45a6b8" stroke-width="0.5" stroke-opacity="0.68" stroke-linejoin="round" stroke-linecap="round"/>
</g>
<clipPath id="cr"><polygon points="324.7,57 324.7,29 330,26.5 338,27.5 344,30.5 349,36 351.5,46 350.5,56.5"/></clipPath><g clip-path="url(#cr)">
<path d="M327.3,27.5 326.9,26.4 327.6,25.4 328.8,25.2 329.7,26.0 329.3,27.1 328.1,27.2 327.2,26.5 327.1,25.3 328.2,24.8 329.0,25.6 M337.2,26.2 336.5,27.2 335.6,28.0 334.8,28.9 334.6,30.1 334.5,31.3 334.7,32.5 335.0,33.6 336.1,34.1 337.0,33.3 336.5,32.3 335.3,32.5 334.9,33.6 335.6,34.5 336.7,34.1 336.6,32.9 M325.7,28.6 326.4,29.6 326.9,30.7 327.4,31.8 327.2,33.0 326.2,33.6 325.1,33.1 324.1,33.7 324.4,34.9 325.6,34.9 325.9,33.7 324.9,33.1 324.0,33.9 324.6,35.0 325.8,35.3 326.6,34.4 M326.7,29.1 325.5,29.3 324.8,30.3 325.3,31.4 326.5,31.4 326.9,30.3 326.0,29.6 324.9,30.0 325.0,31.2 326.1,31.4 326.9,30.4 326.7,29.2 327.5,28.4 M331.5,29.0 330.4,28.6 329.5,29.5 329.4,30.7 330.4,31.5 331.6,31.5 332.3,30.6 332.5,29.4 331.8,28.4 330.7,27.8 329.5,27.7 328.4,28.1 327.3,28.6 326.4,29.4 325.8,30.4 326.1,31.6 327.1,32.3 328.3,32.3 M332.9,27.9 331.8,28.2 330.6,27.9 329.9,27.0 329.7,25.8 330.0,24.6 329.0,25.3 327.9,25.7 326.7,26.0 325.6,26.5 324.6,27.2 M338.2,28.5 337.5,29.5 337.9,30.6 339.0,31.0 340.0,30.3 340.5,29.2 340.7,28.0 340.5,26.8 M339.8,30.8 341.0,30.7 342.0,30.1 342.6,29.1 342.2,27.9 341.0,27.7 340.0,28.4 339.4,29.4 339.2,30.5 339.4,31.7 340.2,32.6 341.4,32.9 342.5,32.5 342.8,31.3 343.8,30.7 345.0,30.8 M342.5,30.2 342.6,31.4 342.6,32.6 342.3,33.7 341.5,34.6 340.3,34.5 340.2,33.3 341.3,32.8 342.1,33.6 343.3,33.6 344.5,33.2 345.6,32.8 346.8,32.5 347.7,31.8 346.8,32.6 345.7,32.3 345.4,31.1 346.3,30.4 347.3,31.1 346.9,32.2 M324.9,31.3 325.3,30.2 324.8,29.1 323.6,28.8 322.8,29.6 323.2,30.8 324.3,31.3 325.5,31.3 326.5,30.6 327.0,29.5 326.5,28.4 M327.1,31.5 326.2,30.7 325.0,30.6 324.3,31.5 324.9,32.6 326.1,32.5 326.3,31.4 325.3,30.8 324.5,31.7 325.1,32.7 326.3,32.9 327.3,32.2 327.6,31.1 326.7,30.2 325.5,30.4 324.7,31.3 M331.2,31.7 330.1,32.0 329.0,32.4 328.0,33.1 327.6,34.2 327.5,35.4 327.4,36.6 327.1,37.7 327.0,38.9 327.0,40.1 327.8,41.0 328.9,41.2 330.1,40.9 330.7,39.9 330.0,38.9 328.8,39.0 327.9,39.8 327.6,40.9 328.4,41.9 M333.6,31.2 334.4,32.1 335.5,31.7 335.5,30.5 334.6,29.7 333.5,30.3 333.6,31.5 334.8,32.0 335.5,31.0 335.1,29.8 334.1,29.3 333.1,30.0 M337.4,33.7 336.7,34.7 336.6,35.9 336.8,37.1 337.5,38.0 338.4,38.9 339.3,39.6 340.5,39.8 341.7,39.6 342.7,39.0 343.2,37.9 343.2,36.7 342.7,35.6 342.2,34.5 M340.8,33.7 340.6,34.9 340.2,36.0 339.8,37.1 339.5,38.3 339.3,39.5 339.0,40.6 338.2,41.5 337.1,42.0 336.0,41.5 335.3,40.5 334.9,39.4 334.5,38.2 334.7,37.0 335.2,35.9 335.8,34.9 M345.4,32.1 344.3,31.6 343.1,31.5 342.0,31.8 341.1,32.6 341.2,33.8 342.0,34.7 343.2,34.5 344.0,33.7 344.3,32.5 344.4,31.3 344.2,30.1 343.9,28.9 343.3,27.9 342.3,27.3 M323.5,37.1 324.2,38.1 325.4,38.1 326.4,37.4 327.4,38.0 327.4,39.2 326.6,40.1 325.4,40.5 324.2,40.3 323.2,39.6 323.6,40.7 M328.2,36.3 327.0,35.9 326.3,35.0 326.3,33.8 327.0,32.8 328.0,32.2 328.9,33.0 328.7,34.1 327.5,34.3 326.9,33.3 327.3,32.2 328.5,32.3 328.8,33.4 327.9,34.2 326.8,33.6 M329.4,34.6 330.5,34.0 330.9,32.9 332.0,32.3 333.1,32.8 333.7,33.8 333.6,35.0 333.1,36.1 332.5,37.1 331.9,38.2 331.6,39.4 331.8,40.5 332.1,41.7 332.2,42.9 331.4,43.8 M335.6,34.9 334.7,35.8 334.1,36.8 333.3,37.6 332.3,38.3 331.4,39.2 330.4,39.8 329.3,40.2 328.2,40.7 327.5,41.7 326.3,41.7 325.8,40.6 326.2,39.5 327.4,39.1 328.4,39.8 328.9,40.9 M339.0,35.9 337.9,35.5 336.7,35.5 335.8,36.3 336.2,37.5 337.3,37.7 337.9,36.6 337.0,35.8 336.0,36.4 336.3,37.6 337.5,37.7 M341.8,36.0 342.4,37.1 343.4,37.6 344.6,38.0 345.8,38.2 347.0,38.0 348.0,37.3 349.0,36.7 349.7,35.7 349.5,34.5 348.4,34.1 347.4,34.9 347.3,36.1 348.1,36.9 349.3,37.0 350.4,36.4 351.3,35.6 351.0,36.8 351.1,38.0 M344.6,36.3 345.7,35.7 346.3,34.6 346.6,33.5 347.3,32.5 348.4,32.0 347.5,31.2 347.2,32.3 346.0,32.7 345.3,31.8 345.9,30.8 347.1,30.9 347.7,31.9 347.2,33.0 346.1,33.6 344.9,33.8 343.7,33.8 342.5,33.7 341.8,32.8 342.0,31.6 343.0,31.0 M346.0,37.5 345.9,38.7 346.6,39.7 347.8,39.6 348.8,39.0 349.7,38.2 350.2,37.1 349.6,36.0 348.5,35.5 347.3,35.6 346.6,36.6 347.2,37.6 348.4,37.4 348.5,36.2 347.5,35.5 346.3,35.7 345.5,36.6 345.0,37.7 345.3,38.9 346.0,39.8 M351.2,36.6 350.1,35.9 349.7,34.8 349.6,33.6 M323.2,38.8 323.2,37.6 323.7,36.5 324.4,35.5 324.7,34.4 324.6,33.2 323.9,32.2 323.1,31.3 M327.2,39.8 326.0,39.9 324.9,40.3 324.3,41.3 324.2,42.5 324.6,43.6 325.6,44.4 326.8,44.4 327.9,44.2 329.0,43.6 329.8,42.7 329.8,41.5 329.3,40.4 328.2,39.9 327.2,40.5 327.2,41.7 328.0,42.5 329.2,42.8 330.3,42.3 330.5,41.2 M332.2,38.9 331.2,39.6 330.9,40.8 330.9,42.0 330.7,43.2 329.6,43.4 329.0,42.3 329.6,41.3 330.8,41.0 332.0,41.1 332.9,41.9 333.1,43.1 332.2,43.9 331.2,43.3 331.2,42.1 332.4,41.8 333.0,42.9 332.1,43.7 330.9,43.4 330.8,42.2 331.9,41.7 M335.7,38.2 334.9,37.3 334.9,36.1 334.1,35.3 333.0,35.9 332.9,37.1 334.0,37.6 335.0,36.9 335.3,35.8 335.0,34.6 334.6,33.4 333.9,32.5 332.8,32.1 331.8,32.8 332.1,34.0 M337.5,40.4 338.1,41.4 337.2,42.2 336.2,41.6 336.3,40.4 337.4,40.0 338.1,41.0 337.6,42.1 336.4,41.9 336.2,40.7 337.2,40.1 338.3,40.4 338.7,41.6 M339.7,38.0 338.6,38.7 337.6,39.3 336.6,40.0 335.5,39.5 335.0,38.5 335.1,37.3 335.6,36.2 336.5,35.3 337.6,35.2 338.8,35.4 340.0,35.8 341.1,36.2 M343.0,40.6 343.4,39.4 343.8,38.3 344.4,37.3 345.2,36.4 346.0,35.5 346.7,34.5 347.5,33.7 348.5,32.9 M347.8,40.1 349.0,39.8 350.1,39.5 351.3,39.1 350.1,39.3 348.9,39.6 348.5,40.7 349.0,41.8 349.9,42.5 349.7,43.7 348.5,43.8 347.7,42.9 348.4,41.9 349.6,41.9 350.0,43.1 M350.5,39.1 350.1,40.2 350.2,41.4 351.0,42.3 352.2,42.5 351.0,42.8 350.1,43.5 349.7,44.7 349.4,45.8 349.9,46.9 351.1,47.2 352.2,46.8 353.0,45.9 352.5,44.8 351.3,44.9 M328.1,41.7 329.1,42.4 329.7,43.5 329.1,44.5 327.9,44.8 327.2,43.8 328.0,42.9 329.2,43.0 329.5,44.1 328.8,45.1 327.6,45.4 M330.0,43.7 329.9,42.5 330.8,41.8 332.0,42.1 332.3,43.3 331.7,44.4 330.6,44.7 329.5,44.3 329.3,43.1 330.4,42.6 331.1,43.5 330.5,44.5 329.3,44.1 329.3,42.9 330.5,42.6 331.1,43.6 330.3,44.5 329.2,43.9 329.3,42.7 330.1,41.9 M335.2,43.1 335.5,41.9 335.2,40.8 334.2,40.1 333.1,40.4 332.4,41.4 332.5,42.6 332.9,43.7 334.0,44.3 335.2,44.0 336.2,43.4 336.7,42.3 336.9,41.1 336.3,40.1 336.7,39.0 337.9,38.8 338.8,39.6 338.5,40.8 M336.8,42.7 337.1,41.5 336.1,40.9 335.2,41.7 335.7,42.8 336.9,42.6 337.3,41.4 336.8,40.3 335.8,39.7 334.7,40.0 333.7,40.8 333.7,42.0 334.5,42.9 335.6,43.1 336.8,43.1 337.7,42.3 M339.9,42.7 339.7,43.9 340.7,44.4 341.6,43.5 341.3,42.4 340.2,41.9 339.3,42.8 339.6,43.9 340.5,44.7 341.7,44.8 342.5,43.9 342.9,42.7 342.6,41.5 341.7,40.9 340.5,40.8 339.4,41.3 M345.6,41.3 344.6,40.6 343.7,41.4 344.1,42.5 345.3,42.3 345.5,41.1 344.4,40.7 343.6,41.6 344.2,42.7 345.3,43.1 346.5,43.2 347.7,43.2 348.4,44.2 347.9,45.3 346.7,45.5 345.8,44.7 M346.4,43.8 347.2,44.7 348.4,44.5 349.1,45.4 348.6,46.5 347.4,46.5 347.1,45.3 348.1,44.6 349.0,45.4 348.5,46.5 347.3,46.3 347.2,45.1 348.0,44.3 349.1,44.9 349.2,46.1 348.3,46.9 347.1,46.5 346.4,45.6 345.2,45.4 344.0,45.6 342.8,45.8 M351.4,43.5 350.9,44.6 350.4,45.7 350.3,46.9 350.8,47.9 351.6,48.8 352.7,49.4 352.0,48.4 351.3,47.4 351.8,46.3 353.0,46.2 353.6,47.3 353.1,48.3 351.9,48.4 M324.0,45.5 324.6,44.5 324.1,43.4 323.0,42.9 324.0,42.2 324.2,41.0 323.2,40.3 324.4,40.3 324.9,39.3 324.0,38.5 322.9,38.9 M327.1,47.0 327.8,46.0 329.0,45.8 330.1,46.2 330.4,47.4 329.5,48.2 328.3,48.0 328.1,46.9 328.8,45.9 330.0,45.8 331.1,46.3 331.4,47.5 330.5,48.3 M332.3,47.4 331.8,48.5 331.7,49.7 331.5,50.9 331.6,52.1 331.5,53.3 331.6,54.5 332.1,55.6 332.9,56.5 333.6,57.4 334.2,58.5 M335.4,46.7 335.4,47.9 334.9,49.0 333.8,49.5 332.9,48.7 333.5,47.6 334.6,47.8 335.0,49.0 334.0,49.6 333.1,48.8 333.6,47.7 334.8,47.6 335.4,48.7 335.1,49.8 334.1,50.5 M336.2,45.3 335.1,44.7 334.6,43.7 334.3,42.5 334.3,41.3 335.4,40.9 336.5,41.5 336.3,42.7 335.2,43.1 334.6,42.1 335.4,41.2 336.4,41.7 336.3,42.9 335.1,43.1 334.6,42.0 M342.3,47.1 341.5,46.2 340.5,45.5 339.3,45.4 338.4,46.2 338.3,47.4 339.2,48.1 340.4,47.8 340.9,46.7 340.7,45.5 339.7,44.8 338.6,45.1 338.0,46.2 337.8,47.4 338.6,48.2 339.7,47.7 M342.9,46.3 342.7,45.1 342.5,43.9 342.0,42.8 341.4,41.8 340.5,41.0 339.4,40.6 338.2,41.0 337.9,42.1 338.9,42.8 340.0,42.5 340.5,41.4 340.2,40.2 339.4,39.2 338.4,38.6 M347.6,46.3 348.8,46.6 349.6,45.7 349.2,44.6 350.0,43.7 351.2,43.9 352.0,44.9 352.0,46.1 351.4,47.1 350.4,47.8 349.3,47.4 349.0,46.3 350.0,45.7 350.9,46.5 350.5,47.7 349.3,47.6 348.6,46.6 M352.2,44.4 351.3,45.2 350.3,45.9 349.2,46.3 348.0,46.5 347.3,47.5 347.8,48.5 349.0,48.7 349.9,47.9 349.5,46.8 348.4,46.4 347.3,47.0 347.5,48.2 348.5,48.8 349.6,48.3 349.6,47.1 348.5,46.6 347.5,47.3 347.5,48.5 M328.3,49.2 328.3,48.0 327.4,47.1 326.3,47.6 325.8,48.7 326.6,49.6 327.7,49.0 327.6,47.8 326.5,47.4 325.4,47.8 324.8,48.9 325.1,50.1 325.8,51.1 326.7,51.8 327.8,52.2 329.0,52.2 M331.4,48.3 332.4,49.0 333.3,48.2 332.8,47.1 331.6,47.2 331.4,48.4 332.4,49.1 333.4,48.5 334.3,49.3 334.0,50.4 332.8,50.5 332.1,49.6 332.6,48.5 333.7,48.2 334.3,49.2 333.5,50.1 M335.4,48.7 335.5,47.5 336.0,46.4 336.5,45.3 337.1,44.3 338.2,43.8 339.4,43.8 340.5,44.4 340.4,45.6 339.3,45.9 338.4,45.1 338.0,44.0 338.8,43.1 M337.0,49.5 336.7,50.7 336.2,51.8 335.7,52.9 334.9,53.7 333.7,53.8 332.6,53.3 331.7,52.5 331.5,51.3 331.7,50.1 332.5,49.2 333.3,48.4 334.4,47.8 335.4,47.1 336.3,46.4 336.8,45.3 337.1,44.1 337.0,42.9 336.5,41.8 335.7,41.0 334.7,40.3 M340.6,49.6 341.1,48.5 342.1,47.8 343.2,47.3 344.4,47.2 345.6,47.4 346.7,47.8 347.8,48.3 348.8,49.0 349.3,50.1 349.3,51.3 M343.7,49.1 342.6,48.5 341.5,48.0 340.5,47.4 339.3,47.1 338.2,46.9 337.0,46.6 335.8,46.4 334.6,46.4 333.4,46.6 332.2,46.5 331.0,46.3 M347.8,50.0 347.4,51.2 346.6,52.1 345.8,52.9 344.7,53.4 343.6,54.0 342.8,54.8 341.8,55.6 340.8,56.2 339.8,56.7 338.7,57.4 337.6,57.8 336.4,57.5 335.4,56.9 334.7,55.9 335.1,54.8 336.3,54.7 M352.2,50.1 351.7,48.9 350.7,48.4 349.5,48.3 348.4,48.8 347.6,49.7 346.9,50.6 346.1,51.5 344.9,51.5 344.0,50.7 344.4,49.6 345.5,49.1 346.7,49.2 347.7,49.9 347.5,51.1 346.5,51.7 345.3,51.5 344.2,50.9 343.9,49.8 344.5,48.8 345.7,48.5 M324.9,52.6 325.5,51.6 326.7,51.8 326.9,53.0 325.8,53.4 324.9,52.6 325.2,51.4 326.4,51.2 327.4,51.9 328.0,53.0 327.7,54.1 326.6,54.7 325.6,54.0 325.9,52.9 325.4,51.8 324.2,51.4 325.2,50.7 325.3,49.5 324.9,48.4 324.2,47.5 M326.7,52.0 326.1,51.0 325.3,50.1 324.2,49.7 325.4,49.7 326.5,49.2 327.6,48.7 328.2,47.7 328.6,46.6 328.2,45.4 327.3,44.6 326.2,44.8 326.0,46.0 327.1,46.4 327.9,45.5 327.1,44.5 326.0,45.0 325.2,44.1 M330.9,50.9 330.0,51.8 328.8,51.7 328.5,50.6 327.3,50.3 326.4,51.1 326.3,52.3 325.5,53.1 324.3,52.9 323.7,51.8 324.5,50.9 325.6,51.4 325.4,52.5 324.2,52.7 323.5,51.8 323.6,50.6 324.1,49.5 324.9,48.6 M334.6,52.6 335.7,52.1 336.8,51.7 338.0,51.5 339.2,51.6 340.3,52.1 341.4,52.7 342.6,52.7 343.7,52.4 344.8,51.9 345.8,51.2 346.4,50.2 346.6,49.0 346.4,47.8 M339.1,53.2 338.4,54.2 337.2,54.2 336.4,53.4 336.7,52.3 337.9,52.3 338.3,53.4 337.3,54.1 336.4,53.3 336.7,52.2 337.8,51.8 338.7,52.7 338.9,53.9 338.4,54.9 337.6,55.8 336.9,56.8 336.3,57.9 M339.6,51.0 338.8,50.0 338.5,48.9 338.7,47.7 339.0,46.5 339.9,45.7 341.1,45.3 342.3,45.3 343.0,44.4 342.4,43.4 341.2,43.8 341.2,45.0 342.4,45.3 343.0,44.2 342.2,43.4 M345.4,51.6 345.7,52.8 344.8,53.7 343.7,53.2 343.2,52.1 343.2,50.9 344.2,50.2 345.2,50.9 345.3,52.1 344.3,52.7 343.2,52.1 343.0,51.0 343.1,49.8 344.0,48.9 345.0,48.4 346.2,48.0 347.3,47.6 348.3,46.9 349.3,46.3 M347.8,53.9 348.1,52.8 347.4,51.8 346.2,51.5 345.0,51.5 344.1,52.2 343.8,53.4 344.1,54.5 345.2,55.1 346.4,55.3 347.5,54.9 M350.5,52.6 350.6,51.4 350.8,50.2 350.6,49.0 350.6,47.8 351.0,46.7 351.6,45.6 352.4,44.8 M327.5,56.7 327.5,55.5 328.5,54.9 329.4,55.6 329.4,56.8 328.4,57.3 327.6,56.4 327.8,55.3 328.7,54.5 329.9,54.5 330.7,53.6 330.3,52.5 329.1,52.6 328.5,53.6 329.1,54.6 330.3,54.9 M329.6,54.9 328.4,54.9 327.8,55.9 328.0,57.1 327.2,58.0 326.0,57.9 325.5,56.8 325.7,55.6 326.7,55.1 327.8,55.7 327.5,56.8 326.4,57.3 M333.0,54.3 333.3,53.1 332.8,52.1 331.7,51.5 330.5,51.9 329.6,51.2 329.4,50.0 329.9,48.9 331.1,48.5 332.1,49.1 332.6,50.2 332.8,51.4 332.7,52.6 332.3,53.7 331.5,54.6 330.7,55.5 329.6,55.9 328.4,56.2 M336.5,56.3 335.3,56.0 334.1,55.9 332.9,56.1 332.2,55.1 332.0,54.0 332.4,52.8 332.9,51.7 333.1,50.5 333.7,49.5 334.7,48.9 335.9,48.9 337.1,49.3 338.1,49.8 M340.3,54.6 341.5,54.8 342.3,55.7 342.1,56.9 340.9,57.1 340.4,56.0 341.1,55.0 342.3,54.7 343.3,55.2 343.8,56.3 343.8,57.5 343.0,58.4 341.8,58.2 341.3,57.1 341.7,56.0 342.8,55.6 343.9,55.9 344.8,56.7 345.5,57.7 M345.3,56.3 346.5,56.6 347.5,56.0 347.9,54.9 347.7,53.7 346.6,53.1 345.7,53.8 345.6,55.0 346.4,55.9 347.6,55.8 348.3,56.8 348.2,58.0 M346.5,55.6 347.7,55.5 348.5,54.6 348.7,53.4 348.3,52.3 347.1,52.0 346.1,52.6 345.7,53.7 346.5,54.5 347.7,54.3 348.2,53.2 347.4,52.4 346.3,52.9 346.2,54.1 347.2,54.8 348.1,54.0 347.5,52.9 346.4,52.6 345.5,53.5 345.5,54.7 345.8,55.8 M350.3,55.6 349.7,54.5 349.1,53.5 348.7,52.4 349.3,51.4 349.1,50.2 348.2,49.4 347.0,49.7 346.2,50.6 345.7,51.7 345.4,52.9 344.8,53.9 343.9,54.8 343.1,55.6 342.3,56.5 341.5,57.4 M330.4,58.8 331.5,58.2 332.6,58.4 331.7,57.7 331.7,56.5 332.8,56.1 333.8,56.7 334.3,57.8 M340.8,58.4 341.8,57.7 342.3,56.6 341.9,55.5 340.7,55.2 339.6,55.7 339.0,56.7 338.6,57.8 M344.4,58.7 343.9,57.5 343.7,56.4 343.3,55.2 342.6,54.2 341.6,53.7 340.4,54.0 339.7,55.0 340.0,56.2 340.9,56.9 342.1,57.0 343.1,56.3 343.4,55.2 342.7,54.2 341.5,54.6 341.2,55.8 342.0,56.7 M346.6,58.2 345.8,57.3 344.8,56.6 344.0,55.7 343.1,54.9 342.1,54.2 340.9,54.1 339.8,54.5 339.1,55.5 339.2,56.7 339.8,57.7 341.0,57.9 342.1,57.3 342.3,56.2 341.6,55.2 340.5,54.8 339.4,55.4 338.9,56.4 339.7,57.3" fill="none" stroke="#b4504c" stroke-width="0.45" stroke-opacity="0.68" stroke-linejoin="round" stroke-linecap="round"/>
</g>
<path d="M325,30 C325.6,23 329.6,18.4 333.6,19.8 C337.6,21.4 335.6,26.4 340.4,28.6 M338,25 C342,24 345,27 348,30 C352,31 355,35 356,39 C360,42 360.4,48 358,51 C355,54 352,52 352.6,48 C353,45 356,44 357,47 M349,50 C352,54 357,52 359,56 M351,38 C354,39 355,43 353,45" fill="none" stroke="#b4504c" stroke-width="0.45" stroke-opacity="0.75"/>
<path d="M291.7,59.7 291.0,60.7 289.9,61.3 288.8,61.5 287.6,61.6 M289.7,63.5 289.1,62.4 287.9,62.3 287.1,61.3 M290.8,64.1 289.7,63.8 289.0,62.7 289.7,61.8 290.9,61.8 291.3,62.9 290.4,63.6 289.4,63.0 289.7,61.8 289.1,60.8 M293.3,63.8 294.2,64.6 295.3,65.2 296.4,65.6 297.5,65.9 298.7,65.8 299.9,65.4 M297.9,63.9 297.2,62.9 297.6,61.8 298.8,61.6 298.0,60.7 298.3,61.9 297.8,63.0 296.9,63.7 295.7,63.9 294.8,63.2 294.8,62.0 293.9,61.2 292.7,61.0 291.8,61.8 291.3,62.9 291.2,64.1 291.0,65.2 290.3,66.2 290.9,67.2 292.1,67.0 292.6,65.9 292.4,64.7 291.5,63.9 M289.7,67.8 289.1,66.8 289.7,65.7 290.9,65.7 291.4,66.8 290.4,67.6 289.4,67.0 289.6,65.9 288.8,64.9 287.7,65.3 287.8,66.5 288.9,66.7 M291.0,65.5 290.2,66.4 289.1,65.8 289.3,64.7 290.5,64.5 291.1,65.6 290.7,66.7 289.7,67.3 288.5,67.0 287.6,66.3 287.0,65.3 286.6,64.1 286.3,63.0 M295.8,65.3 296.1,64.1 297.3,64.1 298.0,65.1 297.3,66.1 296.2,66.3 295.3,65.5 295.0,64.3 295.0,63.1 295.8,62.2 297.0,62.5 297.1,63.7 296.0,64.1 295.3,63.1 295.7,62.0 296.7,61.4 297.9,61.2 M296.7,67.0 297.2,68.1 297.8,69.2 298.2,70.3 299.0,71.3 298.6,70.1 298.3,69.0 299.0,68.0 M287.9,71.8 286.8,71.6 285.9,72.4 286.1,73.6 285.7,72.5 284.5,72.3 M290.9,71.1 289.7,71.0 288.5,71.1 287.3,71.4 286.1,71.4 285.0,71.1 284.2,70.1 283.7,69.1 M296.6,70.8 297.7,70.3 298.8,70.9 298.5,72.1 297.4,72.4 296.8,71.3 297.6,70.5 298.6,71.1 298.4,72.2 297.2,72.7 296.4,71.8 296.5,70.6 297.7,70.2 298.8,70.5 298.8,71.7 298.0,70.8 296.9,70.4 295.7,70.4 294.5,70.7 293.7,71.6 293.2,72.7 292.9,73.8 292.8,75.0 M298.7,69.0 297.5,69.3 296.4,68.7 295.6,67.9 295.2,66.8 295.6,65.6 296.3,64.6 297.1,63.8 298.1,63.1 298.0,61.9 296.9,61.4 295.9,62.1 296.0,63.3 M290.9,73.2 289.7,73.5 288.5,73.7 287.5,74.2 288.7,74.3 289.9,74.2 291.0,74.5 292.2,74.9 291.5,73.9 290.8,72.9 289.8,72.3 288.6,72.3 287.6,73.0 287.0,74.0 M293.3,74.9 294.3,74.3 294.4,73.1 293.2,72.7 292.6,73.7 293.4,74.6 294.4,74.1 294.5,72.9 293.6,72.1 292.4,72.1 291.7,73.1 291.5,74.3 292.2,75.3 291.1,74.7 290.0,74.3 288.9,74.7" fill="none" stroke="#7a68ac" stroke-width="0.45" stroke-opacity="0.7" stroke-linejoin="round" stroke-linecap="round"/>
<path d="M298.7,58.6 C297.7,64 294.3,62.3 294.9,66.8 C294.9,69.3 297.5,69.3 297.5,66.8 C298.1,62.3 302.3,64 301.3,58.6 M302.2,58.6 C301.2,64 299.6,72.3 300.2,76.8 C300.2,79.3 302.8,79.3 302.8,76.8 C303.4,72.3 305.8,64 304.8,58.6 M305.7,58.6 C304.7,64 303.1,73.5 303.7,78.0 C303.7,80.5 306.3,80.5 306.3,78.0 C306.9,73.5 309.3,64 308.3,58.6 M309.2,58.6 C308.2,64 309.1,69.3 309.7,73.8 C309.7,76.3 312.3,76.3 312.3,73.8 C312.9,69.3 312.8,64 311.8,58.6 M312.7,58.6 C311.7,64 313.0,71.9 313.6,76.4 C313.6,78.9 316.2,78.9 316.2,76.4 C316.8,71.9 316.3,64 315.3,58.6 M316.2,58.6 C315.2,64 318.2,71.8 318.8,76.3 C318.8,78.8 321.4,78.8 321.4,76.3 C322.0,71.8 319.8,64 318.8,58.6 M319.7,58.6 C318.7,64 322.1,67.4 322.7,71.9 C322.7,74.4 325.3,74.4 325.3,71.9 C325.9,67.4 323.3,64 322.3,58.6 M322.7,58.6 C321.7,64 326.0,62.2 326.6,66.7 C326.6,69.2 329.2,69.2 329.2,66.7 C329.8,62.2 326.3,64 325.3,58.6" fill="none" stroke="#7a68ac" stroke-width="0.45" stroke-opacity="0.8"/>
<path d="M302.4,58.7 302.1,59.8 302.2,61.0 302.9,62.0 304.0,62.5 305.2,62.5 306.1,61.7 305.8,60.6 304.6,60.5 303.9,61.4 303.9,62.6 304.8,63.4 306.0,63.8 307.0,63.3 307.2,62.1 306.2,61.5 305.3,62.3 305.5,63.5 306.2,64.4 M309.2,58.4 308.6,59.4 307.9,60.4 307.5,61.5 307.2,62.7 306.1,63.0 305.5,61.9 304.3,62.0 304.1,63.2 305.2,63.7 306.1,63.0 305.6,61.9 M311.7,59.5 310.7,60.2 310.6,61.4 311.5,62.2 312.7,62.0 313.1,60.9 312.7,59.7 312.0,58.8 M314.0,61.1 314.6,60.1 313.9,59.1 312.7,59.4 312.6,60.6 313.8,61.0 314.6,60.1 314.3,59.0 313.1,58.9 312.3,59.8 312.5,61.0 313.5,61.5 314.4,60.7 313.7,59.6 312.6,60.0 312.5,61.2 313.4,62.0 314.6,61.7 315.2,60.7 M318.1,58.5 318.9,59.4 319.9,60.1 321.1,60.4 322.2,59.9 323.1,59.1 M304.1,63.1 304.3,64.3 303.9,65.4 302.7,65.7 301.5,65.4 300.4,64.9 299.4,64.3 300.6,64.5 301.6,63.8 302.0,62.7 301.5,61.6 300.4,61.1 299.2,61.0 M305.8,63.6 304.8,64.2 304.7,65.4 305.2,66.6 306.2,67.1 307.2,66.4 307.3,65.2 306.6,64.2 305.4,64.1 304.6,63.2 304.8,62.0 305.9,61.9 M309.0,62.9 310.2,63.2 311.2,63.7 312.2,63.0 312.0,61.8 310.9,61.7 310.4,62.8 311.3,63.6 312.3,62.9 312.1,61.8 311.0,61.2 309.9,61.8 309.9,63.0 310.7,63.9 311.8,64.2 M310.2,63.1 310.3,61.9 310.5,60.7 310.5,59.5 M314.5,62.7 314.9,63.8 315.9,64.5 316.9,63.8 316.5,62.7 315.3,62.7 314.7,63.7 315.1,64.8 316.2,65.1 317.0,64.2 316.8,63.0 315.6,62.8 315.0,63.8 315.8,64.7 316.9,64.1 316.9,62.9 315.7,62.6 315.0,63.6 M317.8,61.3 318.6,60.4 319.7,59.8 320.9,59.8 321.8,60.5 322.3,61.6 322.0,62.8 320.8,63.0 320.3,62.0 320.7,60.9 321.9,60.6 322.5,61.6 323.7,61.5 M319.0,63.8 318.6,64.9 318.7,66.1 319.4,67.1 320.2,68.0 320.7,69.0 M322.8,62.2 323.0,63.4 322.8,64.6 322.5,65.8 322.1,66.9 321.2,67.7 320.2,68.4 319.1,68.8 317.9,68.9 317.2,69.9 M300.9,64.2 301.6,63.2 302.7,63.5 303.2,64.6 302.4,65.5 301.2,65.7 300.1,65.5 M303.9,66.8 302.7,66.5 301.6,66.9 302.0,65.7 301.7,64.6 301.1,63.5 300.0,63.0 M305.6,66.3 305.0,67.3 303.8,67.2 303.6,66.0 304.4,65.1 305.6,64.9 306.4,65.8 306.5,67.0 305.7,67.9 304.5,67.8 303.9,66.8 304.3,65.6 305.4,65.5 305.9,66.6 305.0,67.3 304.0,66.6 304.4,65.5 305.6,65.4 M309.1,64.1 308.9,62.9 309.8,62.0 311.0,62.2 311.8,63.0 311.7,64.2 310.8,65.0 309.6,65.1 308.6,64.3 308.9,63.2 310.1,63.1 M310.7,66.2 309.6,66.7 308.4,66.7 307.5,66.0 307.3,64.8 307.7,63.6 306.8,62.8 305.6,62.8 304.9,63.7 305.3,64.9 306.3,65.5 307.4,65.3 308.0,64.2 307.2,63.3 306.0,63.6 306.0,64.8 307.0,65.5 308.1,65.1 308.2,63.9 M314.8,65.3 313.8,64.6 312.6,65.0 312.5,66.2 313.6,66.8 314.6,66.1 314.3,65.0 313.1,64.9 312.5,66.0 311.3,66.0 M316.9,66.5 318.1,66.3 319.0,67.1 318.6,68.2 317.4,68.5 316.3,68.1 315.5,67.2 315.5,66.0 314.4,65.4 313.5,66.2 M319.0,64.1 318.6,63.0 318.9,61.8 319.4,60.8 320.1,59.8 321.2,59.3 322.2,60.1 322.0,61.3 320.8,61.7 320.1,60.7 320.8,59.7 321.9,60.1 M304.2,68.2 303.6,67.1 303.4,65.9 304.2,65.0 305.4,64.8 306.2,65.8 305.6,66.8 304.4,66.5 304.1,65.4 303.0,65.0 301.9,65.5 301.9,66.7 303.0,67.2 303.8,66.3 M307.0,67.7 306.1,66.9 305.4,66.0 304.2,66.0 303.6,67.1 304.5,67.9 305.6,67.3 305.3,66.1 304.2,65.8 303.5,66.8 304.2,67.7 305.4,67.8 306.1,66.7 305.9,65.6 305.0,64.8 304.0,65.5 303.9,66.7 M309.7,67.1 308.7,66.5 307.8,65.7 307.2,64.6 307.5,63.4 308.6,62.9 309.4,63.8 308.8,64.9 307.6,64.6 306.8,65.5 306.6,66.7 307.4,67.6 308.6,67.3 308.8,66.1 307.8,65.5 307.0,66.4 307.6,67.5 308.8,67.2 309.2,66.1 M310.4,67.8 309.8,66.8 308.9,65.9 308.1,65.1 308.4,64.0 309.6,63.5 310.8,63.7 311.9,64.0 313.0,64.4 314.0,65.1 315.0,65.7 316.0,66.5 316.5,67.5 317.1,68.6 317.4,69.8 M315.2,69.1 315.0,67.9 315.8,67.0 316.9,67.4 316.9,68.6 315.7,68.9 314.8,68.1 315.4,67.0 316.6,67.3 317.1,68.4 316.5,69.4 315.3,69.2 M316.9,69.1 317.9,68.5 319.1,68.6 319.7,69.6 320.3,68.5 M319.0,69.5 318.8,68.3 319.5,67.3 320.5,66.7 321.7,66.7 322.9,67.0 M318.3,69.7 317.1,69.4 316.4,68.4 316.5,67.2 317.4,66.4 318.5,66.9 318.8,68.1 318.3,69.2 317.4,69.9" fill="none" stroke="#7a68ac" stroke-width="0.45" stroke-opacity="0.7" stroke-linejoin="round" stroke-linecap="round"/>
<path d="M331.0,60.5 C338.0,58.0 348.0,60.0 354.0,66.0 M332.0,62.0 C338.5,59.7 348.0,61.7 353.7,67.3 M333.0,63.6 C339.0,61.4 348.0,63.4 353.3,68.5 M334.1,65.1 C339.5,63.1 348.0,65.1 353.0,69.8 M335.1,66.6 C340.0,64.8 348.0,66.8 352.6,71.1 M336.1,68.2 C340.6,66.5 348.0,68.5 352.3,72.4 M354,66 C358,66 361,69 360,72 C359,75 355,74 355,71 M346,72 C349,76 354,76 356,73 M329,59 C327,62 329,66 333,66 M340,58.5 C344,57 350,58 353,61 C357,62 359,65 358,67" fill="none" stroke="#7a68ac" stroke-width="0.45" stroke-opacity="0.8"/>
<path d="M330.7,60.8 330.4,59.6 329.4,59.0 328.2,59.3 M333.3,61.9 334.2,62.7 335.4,62.6 336.5,62.3 337.4,61.5 338.1,60.5 338.8,59.5 339.9,58.9 M337.8,59.1 339.0,58.9 340.2,59.0 341.3,59.4 342.4,60.0 343.5,60.5 344.7,60.4 345.7,59.8 346.7,59.2 346.2,60.3 346.0,61.4 346.1,62.6 346.4,63.8 346.7,65.0 M340.1,59.0 340.8,60.0 340.9,61.2 340.6,62.3 339.6,63.1 338.5,63.4 337.4,62.7 337.6,61.5 338.7,61.2 339.5,62.1 338.9,63.1 337.7,62.8 337.2,61.7 337.9,60.7 339.1,60.6 339.6,61.7 M344.5,59.4 345.6,59.1 346.8,59.5 347.6,60.4 348.2,61.5 348.2,62.7 348.2,63.9 348.1,65.1 348.0,66.3 348.0,67.5 348.8,68.3 350.0,68.5 350.9,67.7 351.4,66.6 351.0,65.5 350.0,64.8 M348.7,60.0 347.6,60.5 346.4,60.2 345.9,59.2 345.3,60.2 344.1,59.9 343.8,58.7 342.9,59.5 341.7,59.4 340.8,58.6 M350.4,61.3 349.3,60.8 348.6,59.8 347.5,59.6 346.4,60.2 346.2,61.4 347.1,62.2 348.3,62.1 348.5,60.9 347.5,60.4 346.6,61.2 347.3,62.3 348.4,61.9 348.6,60.8 347.4,60.3 346.4,60.9 345.3,60.6 M354.2,61.3 353.5,60.4 352.3,60.0 351.3,60.7 351.3,61.9 352.3,62.5 353.5,62.3 354.6,61.8 355.5,61.1 354.9,62.1 354.1,63.0 M331.4,64.2 330.4,64.9 329.3,65.1 330.4,65.6 330.5,66.8 331.5,66.1 332.5,66.7 332.4,67.9 M333.4,62.4 334.6,62.2 335.7,62.6 336.6,63.4 337.2,64.4 338.3,64.8 339.5,64.7 339.9,63.6 339.1,62.7 338.0,63.2 338.1,64.4 339.2,64.8 339.9,63.9 339.7,62.7 338.6,62.2 337.5,62.3 M336.2,65.8 335.5,64.9 336.0,63.8 337.2,64.1 337.4,65.2 336.4,65.9 335.5,65.2 335.6,64.0 336.6,63.3 M340.5,65.1 340.2,66.3 341.0,67.2 342.1,66.7 342.3,65.6 341.2,65.1 340.4,66.0 341.0,67.1 342.1,67.6 343.2,67.2 343.4,66.0 M343.6,65.4 344.8,65.4 345.3,64.3 344.6,63.3 343.4,63.0 342.6,63.9 343.2,64.9 344.3,65.1 345.0,64.1 344.3,63.1 343.2,63.1 342.8,64.2 341.6,64.2 341.2,63.0 342.2,62.3 343.2,62.9 M346.9,65.7 347.8,66.5 348.9,66.8 350.1,66.9 351.3,67.0 352.5,67.0 353.7,67.0 354.8,67.5 355.6,68.3 355.6,69.5 354.9,70.5 353.9,71.1 M352.9,65.8 352.0,65.0 351.7,63.8 352.2,62.7 352.9,61.8 354.1,61.6 355.1,62.2 355.5,63.4 354.9,64.4 353.7,64.4 M356.3,62.9 356.0,64.0 355.4,65.1 354.9,66.2 354.5,67.3 354.0,68.4 353.4,69.5 353.1,70.6 353.1,71.8 M357.6,64.5 356.7,65.3 356.7,66.5 357.7,67.2 358.9,67.3 357.7,67.1 356.6,67.6 356.3,68.7 357.2,69.6 358.3,69.2 358.4,68.0 357.3,67.5 356.5,68.4 357.0,69.4 M334.1,66.5 333.6,67.6 334.4,68.5 335.6,68.4 336.3,67.4 336.2,66.2 335.4,65.4 334.2,65.0 333.2,65.6 332.4,66.6 331.7,67.5 M337.0,66.3 336.6,67.5 335.6,68.1 334.4,67.8 333.4,67.1 332.6,66.3 332.4,65.1 332.9,64.0 333.6,63.0 M341.3,66.8 340.1,67.0 339.0,66.5 338.1,65.7 337.4,64.7 336.7,63.7 336.4,62.6 336.8,61.4 337.7,60.7 338.8,60.1 340.0,60.2 341.1,60.7 M343.4,66.4 342.8,65.3 341.7,64.8 340.5,64.8 339.6,65.5 339.1,66.6 339.3,67.8 340.3,68.5 341.5,68.6 341.9,67.5 341.0,66.8 M347.0,67.6 345.8,67.3 344.8,66.7 344.2,65.7 344.1,64.5 344.6,63.4 345.3,62.4 346.2,61.6 347.1,60.8 348.2,60.4 M351.7,66.6 350.5,66.5 349.5,65.8 348.9,64.8 348.9,63.6 349.8,62.9 351.0,63.2 351.8,64.1 351.6,65.3 350.7,66.1 349.6,66.4 348.4,65.9 348.2,64.8 M355.3,69.3 354.2,69.9 353.1,69.6 352.3,68.7 352.5,67.5 353.4,66.7 354.6,66.6 355.2,67.7 354.7,68.8 353.5,68.7 352.9,67.6 353.5,66.6 354.7,67.0 354.6,68.2 353.5,68.6 M358.9,67.1 357.9,67.7 357.0,68.5 356.4,69.6 356.0,70.7 354.8,70.7 354.0,69.8 354.1,68.6 354.8,67.7 355.8,67.0 356.6,66.1 357.6,65.4 358.8,65.5 359.3,66.6 358.8,67.7 357.6,67.6 M336.8,71.0 337.9,71.5 339.0,71.6 339.7,70.6 339.1,69.6 338.0,69.9 337.5,71.0 338.0,72.1 339.0,72.7 340.2,72.9 341.2,72.3 342.0,71.4 342.8,70.5 M341.9,71.4 342.2,70.2 342.1,69.0 341.1,68.2 339.9,68.4 339.1,67.5 339.3,66.4 340.5,66.2 341.3,67.0 M344.4,73.0 344.5,74.2 345.0,75.2 344.3,74.2 343.4,73.5 342.2,73.2 341.1,73.6 M347.5,70.7 346.8,71.7 347.6,72.7 348.7,72.2 348.6,71.0 347.4,70.8 346.6,71.7 346.9,72.9 348.1,72.9 M349.9,70.4 351.1,70.3 351.8,71.3 351.6,72.4 350.8,73.3 349.7,73.8 348.6,74.3 347.6,75.0 346.5,74.8 345.7,73.9 M354.1,71.1 353.1,70.4 352.0,70.7 351.7,71.8 352.5,72.8 353.6,72.5 354.2,71.5 354.1,70.3 353.5,69.3 352.3,69.1 351.6,70.1 352.1,71.2 353.3,71.0 353.6,69.8 M357.1,71.1 356.0,70.6 356.2,69.4 357.4,69.3 358.0,70.3 357.4,71.4 356.2,71.5 355.5,70.6 355.4,69.4 356.2,68.5 357.4,68.3 357.8,67.2 M347.4,73.3 346.9,74.4 346.0,73.6 344.9,73.9 344.1,74.8 M350.3,73.8 350.7,72.7 351.6,71.9 352.8,71.9 353.4,72.9 352.9,74.0 351.7,73.9 351.5,72.7 352.6,72.2 353.4,73.1 352.7,74.1 351.5,73.9 351.4,72.7 352.5,72.3 353.2,73.2 352.6,74.2 351.4,73.8" fill="none" stroke="#7a68ac" stroke-width="0.42" stroke-opacity="0.65" stroke-linejoin="round" stroke-linecap="round"/>
<path d="M350.5,29.0 349.3,29.1 348.7,29.4 348.9,30.1 349.7,30.9 350.6,31.8 351.0,32.4 350.5,32.8 349.4,33.0 348.1,33.1 347.3,33.3 347.4,33.9 348.2,34.7 349.1,35.6 349.6,36.3 349.3,36.7 348.3,36.9 347.0,37.0 346.1,37.2 346.0,37.7 346.6,38.5 347.6,39.4 348.2,40.1 348.1,40.6 347.1,40.9 345.8,41.0 344.8,41.1 344.5,41.6 345.1,42.3 346.0,43.2 346.8,44.0 346.8,44.5 346.0,44.8 344.7,44.9" fill="none" stroke="#9c2f2f" stroke-width="1.1" stroke-opacity="1" stroke-linecap="round" stroke-linejoin="round"/>
<linearGradient id="g1" gradientUnits="userSpaceOnUse" x1="377" y1="27.6" x2="394.6" y2="44.6"><stop offset="0" stop-color="#3f68b8"/><stop offset="1" stop-color="#b4c6e8"/></linearGradient>
<path d="M376.4,28.3 376.3,29.1 376.4,29.7 376.8,30.0 377.5,30.1 378.3,29.9 379.2,29.7 380.2,29.5 381.0,29.3 381.6,29.5 381.9,29.8 382.1,30.4 382.0,31.3 381.8,32.2 381.6,33.1 381.5,34.0 381.6,34.6 381.9,35.0 382.6,35.1 383.4,35.0 384.3,34.7 385.2,34.5 386.1,34.4 386.7,34.4 387.1,34.8 387.2,35.3 387.2,36.2 387.0,37.1 386.8,38.0 386.7,38.9 386.7,39.5 387.1,39.9 387.6,40.1 388.4,40.0 389.4,39.8 390.3,39.5 391.2,39.4 391.8,39.4 392.2,39.7 392.4,40.3 392.4,41.0 392.2,42.0 392.0,42.9 391.8,43.8 391.9,44.5 392.2,44.9 392.7,45.1 393.5,45.0 394.4,44.8" fill="none" stroke="url(#g1)" stroke-width="2.8" stroke-opacity="1" stroke-linecap="round" stroke-linejoin="round"/>
<linearGradient id="g2" gradientUnits="userSpaceOnUse" x1="397.4" y1="38.6" x2="425.6" y2="50.4"><stop offset="0" stop-color="#dba020"/><stop offset="1" stop-color="#f4dcaa"/></linearGradient>
<path d="M397.0,39.4 397.3,40.2 397.6,40.7 398.1,40.9 398.6,40.8 399.3,40.5 400.1,40.0 400.8,39.5 401.6,39.1 402.2,38.8 402.8,38.8 403.2,39.1 403.5,39.6 403.7,40.4 403.9,41.3 404.0,42.2 404.2,43.0 404.6,43.6 405.0,43.8 405.5,43.8 406.2,43.5 406.9,43.1 407.7,42.5 408.4,42.1 409.1,41.8 409.7,41.7 410.1,41.9 410.4,42.5 410.7,43.2 410.8,44.1 411.0,45.0 411.2,45.8 411.5,46.4 411.9,46.7 412.5,46.8 413.1,46.5 413.8,46.1 414.6,45.5 415.3,45.1 416.0,44.7 416.6,44.6 417.1,44.8 417.4,45.3 417.7,46.0 417.8,46.9 418.0,47.8 418.2,48.6 418.5,49.3 418.9,49.6 419.4,49.7 420.0,49.5 420.7,49.1 421.5,48.6 422.2,48.1 422.9,47.7 423.5,47.6 424.0,47.7 424.4,48.1 424.6,48.8 424.8,49.7 425.0,50.6 425.2,51.4" fill="none" stroke="url(#g2)" stroke-width="2.9" stroke-opacity="1" stroke-linecap="round" stroke-linejoin="round"/>
<linearGradient id="g3" gradientUnits="userSpaceOnUse" x1="410" y1="50.4" x2="386" y2="55.2"><stop offset="0" stop-color="#cf5c22"/><stop offset="1" stop-color="#f2c0a2"/></linearGradient>
<path d="M409.8,49.6 409.2,49.1 408.7,48.9 408.2,49.0 407.7,49.5 407.4,50.2 407.0,51.0 406.7,51.9 406.3,52.6 405.8,53.0 405.3,53.1 404.8,52.9 404.2,52.4 403.5,51.7 402.8,51.0 402.2,50.5 401.7,50.3 401.2,50.4 400.7,50.8 400.3,51.5 400.0,52.4 399.6,53.2 399.3,53.9 398.8,54.4 398.3,54.5 397.8,54.3 397.2,53.8 396.5,53.2 395.9,52.5 395.2,52.0 394.7,51.7 394.2,51.8 393.7,52.1 393.3,52.8 393.0,53.7 392.6,54.5 392.3,55.3 391.8,55.8 391.4,56.0 390.8,55.8 390.2,55.3 389.5,54.7 388.9,54.0 388.3,53.5 387.7,53.1 387.1,53.1 386.7,53.5 386.3,54.1 386.0,55.0" fill="none" stroke="url(#g3)" stroke-width="2.4" stroke-opacity="1" stroke-linecap="round" stroke-linejoin="round"/>
<linearGradient id="g4" gradientUnits="userSpaceOnUse" x1="403.4" y1="65.4" x2="378.8" y2="70.8"><stop offset="0" stop-color="#cf5c22"/><stop offset="1" stop-color="#f2c0a2"/></linearGradient>
<path d="M403.2,64.6 402.6,64.1 402.0,63.9 401.5,64.0 401.1,64.5 400.8,65.2 400.4,66.0 400.1,66.9 399.8,67.6 399.3,68.1 398.9,68.2 398.3,68.0 397.7,67.6 397.0,66.9 396.4,66.3 395.7,65.7 395.2,65.5 394.7,65.5 394.2,65.9 393.8,66.5 393.5,67.3 393.2,68.2 392.8,69.0 392.4,69.5 392.0,69.7 391.4,69.6 390.8,69.3 390.2,68.7 389.5,68.0 388.9,67.4 388.3,67.1 387.8,67.0 387.3,67.3 386.9,67.8 386.6,68.6 386.2,69.5 385.9,70.3 385.5,70.9 385.1,71.3 384.6,71.3 384.0,70.9 383.4,70.4 382.7,69.7 382.0,69.1 381.4,68.7 380.9,68.5 380.4,68.7 380.0,69.2 379.6,69.9 379.3,70.8 379.0,71.6" fill="none" stroke="url(#g4)" stroke-width="2.4" stroke-opacity="1" stroke-linecap="round" stroke-linejoin="round"/>
<linearGradient id="g5" gradientUnits="userSpaceOnUse" x1="402" y1="62" x2="420.8" y2="78.4"><stop offset="0" stop-color="#3f68b8"/><stop offset="1" stop-color="#b4c6e8"/></linearGradient>
<path d="M401.4,62.7 401.4,63.5 401.5,64.1 401.9,64.4 402.6,64.4 403.4,64.3 404.3,64.0 405.2,63.7 406.1,63.5 406.7,63.6 407.1,64.0 407.2,64.6 407.1,65.4 407.0,66.3 406.8,67.3 406.8,68.1 406.9,68.7 407.3,69.1 407.9,69.2 408.7,69.0 409.6,68.7 410.6,68.5 411.4,68.3 412.0,68.3 412.4,68.6 412.6,69.2 412.6,70.0 412.4,70.9 412.3,71.9 412.2,72.8 412.3,73.4 412.7,73.8 413.2,73.9 414.0,73.8 414.9,73.5 415.8,73.2 416.7,73.0 417.4,73.0 417.8,73.3 418.0,73.8 418.0,74.6 417.9,75.5 417.7,76.5 417.6,77.4 417.7,78.1 418.0,78.5 418.6,78.6 419.3,78.5 420.2,78.3 421.1,78.0" fill="none" stroke="url(#g5)" stroke-width="2.8" stroke-opacity="1" stroke-linecap="round" stroke-linejoin="round"/>
<path d="M453.6,9 V76.4 H530" fill="none" stroke="#9a9a9a" stroke-width="0.6"/>
<path d="M467.1,76.4 C467.1,37.0 472.7,18.4 475.3,18.4 S483.5,37.0 483.5,76.4" fill="none" stroke="#8fd68f" stroke-width="0.55"/>
<path d="M467.1,76.4 C467.1,50.3 472.7,38 475.3,38 S483.5,50.3 483.5,76.4" fill="none" stroke="#6fa8e6" stroke-width="0.55"/>
<path d="M467.1,76.4 C467.1,56.4 472.7,47 475.3,47 S483.5,56.4 483.5,76.4" fill="none" stroke="#f07e7e" stroke-width="0.55"/>
<path d="M467.1,76.4 C467.1,63.2 472.7,57 475.3,57 S483.5,63.2 483.5,76.4" fill="none" stroke="#f6cf5c" stroke-width="0.55"/>
<path d="M494.3,76.4 C494.3,51.6 499.9,40 502.5,40 S510.7,51.6 510.7,76.4" fill="none" stroke="#8fd68f" stroke-width="0.55"/>
<path d="M494.3,76.4 C494.3,59.8 499.9,52 502.5,52 S510.7,59.8 510.7,76.4" fill="none" stroke="#6fa8e6" stroke-width="0.55"/>
<path d="M494.3,76.4 C494.3,64.3 499.9,58.6 502.5,58.6 S510.7,64.3 510.7,76.4" fill="none" stroke="#f07e7e" stroke-width="0.55"/>
<path d="M494.3,76.4 C494.3,67.3 499.9,63 502.5,63 S510.7,67.3 510.7,76.4" fill="none" stroke="#f6cf5c" stroke-width="0.55"/>
<text x="26" y="100.3" font-size="8.4" textLength="140" lengthAdjust="spacingAndGlyphs">Surgical resection of Tumor Tissue</text>
<text x="200" y="100.3" font-size="8.4" textLength="75" lengthAdjust="spacingAndGlyphs">Lysate Preparation</text>
<text x="316" y="100.3" font-size="8.4" textLength="80.4" lengthAdjust="spacingAndGlyphs">Peptide Preparation</text>
<text x="450.4" y="100.3" font-size="8.4" textLength="82.6" lengthAdjust="spacingAndGlyphs">Targeted Proteomics</text>
<rect x="46.90" y="121.0" width="5.1" height="25.0" fill="#008000"/>
<rect x="46.90" y="146.0" width="5.1" height="2.4" fill="#008b8b"/>
<rect x="46.90" y="148.4" width="5.1" height="5.6" fill="#a52a2a"/>
<rect x="46.90" y="154.0" width="5.1" height="19.6" fill="#8a2be2"/>
<rect x="46.90" y="173.6" width="5.1" height="23.6" fill="#0000ff"/>
<rect x="57.32" y="128.4" width="5.1" height="24.6" fill="#008000"/>
<rect x="57.32" y="153.0" width="5.1" height="1.4" fill="#008b8b"/>
<rect x="57.32" y="154.4" width="5.1" height="3.0" fill="#d2691e"/>
<rect x="57.32" y="157.4" width="5.1" height="8.2" fill="#a52a2a"/>
<rect x="57.32" y="165.6" width="5.1" height="17.4" fill="#8a2be2"/>
<rect x="57.32" y="183.0" width="5.1" height="14.2" fill="#0000ff"/>
<rect x="67.74" y="122.4" width="5.1" height="25.6" fill="#008000"/>
<rect x="67.74" y="148.0" width="5.1" height="4.4" fill="#008b8b"/>
<rect x="67.74" y="152.4" width="5.1" height="3.4" fill="#d2691e"/>
<rect x="67.74" y="155.8" width="5.1" height="7.2" fill="#a52a2a"/>
<rect x="67.74" y="163.0" width="5.1" height="18.4" fill="#8a2be2"/>
<rect x="67.74" y="181.4" width="5.1" height="15.8" fill="#0000ff"/>
<rect x="78.16" y="122.0" width="5.1" height="28.0" fill="#008000"/>
<rect x="78.16" y="150.0" width="5.1" height="3.4" fill="#008b8b"/>
<rect x="78.16" y="153.4" width="5.1" height="3.6" fill="#d2691e"/>
<rect x="78.16" y="157.0" width="5.1" height="8.0" fill="#a52a2a"/>
<rect x="78.16" y="165.0" width="5.1" height="18.2" fill="#8a2be2"/>
<rect x="78.16" y="183.2" width="5.1" height="14.0" fill="#0000ff"/>
<rect x="88.58" y="132.0" width="5.1" height="22.0" fill="#008000"/>
<rect x="88.58" y="154.0" width="5.1" height="3.6" fill="#008b8b"/>
<rect x="88.58" y="157.6" width="5.1" height="1.0" fill="#d2691e"/>
<rect x="88.58" y="158.6" width="5.1" height="6.4" fill="#a52a2a"/>
<rect x="88.58" y="165.0" width="5.1" height="16.6" fill="#8a2be2"/>
<rect x="88.58" y="181.6" width="5.1" height="15.6" fill="#0000ff"/>
<rect x="99.00" y="127.8" width="5.1" height="24.6" fill="#008000"/>
<rect x="99.00" y="152.4" width="5.1" height="4.0" fill="#008b8b"/>
<rect x="99.00" y="156.4" width="5.1" height="3.1" fill="#d2691e"/>
<rect x="99.00" y="159.5" width="5.1" height="7.9" fill="#a52a2a"/>
<rect x="99.00" y="167.4" width="5.1" height="18.0" fill="#8a2be2"/>
<rect x="99.00" y="185.4" width="5.1" height="11.8" fill="#0000ff"/>
<rect x="109.42" y="125.8" width="5.1" height="27.8" fill="#008000"/>
<rect x="109.42" y="153.6" width="5.1" height="2.8" fill="#008b8b"/>
<rect x="109.42" y="156.4" width="5.1" height="2.2" fill="#d2691e"/>
<rect x="109.42" y="158.6" width="5.1" height="6.8" fill="#a52a2a"/>
<rect x="109.42" y="165.4" width="5.1" height="17.2" fill="#8a2be2"/>
<rect x="109.42" y="182.6" width="5.1" height="14.6" fill="#0000ff"/>
<rect x="119.84" y="132.6" width="5.1" height="23.0" fill="#008000"/>
<rect x="119.84" y="155.6" width="5.1" height="0.8" fill="#008b8b"/>
<rect x="119.84" y="156.4" width="5.1" height="2.6" fill="#d2691e"/>
<rect x="119.84" y="159.0" width="5.1" height="5.4" fill="#a52a2a"/>
<rect x="119.84" y="164.4" width="5.1" height="17.6" fill="#8a2be2"/>
<rect x="119.84" y="182.0" width="5.1" height="15.2" fill="#0000ff"/>
<rect x="130.26" y="134.4" width="5.1" height="24.0" fill="#008000"/>
<rect x="130.26" y="158.4" width="5.1" height="0.6" fill="#008b8b"/>
<rect x="130.26" y="159.0" width="5.1" height="1.6" fill="#d2691e"/>
<rect x="130.26" y="160.6" width="5.1" height="7.4" fill="#a52a2a"/>
<rect x="130.26" y="168.0" width="5.1" height="14.6" fill="#8a2be2"/>
<rect x="130.26" y="182.6" width="5.1" height="14.6" fill="#0000ff"/>
<rect x="140.68" y="128.8" width="5.1" height="26.2" fill="#008000"/>
<rect x="140.68" y="155.0" width="5.1" height="4.4" fill="#008b8b"/>
<rect x="140.68" y="159.4" width="5.1" height="3.6" fill="#d2691e"/>
<rect x="140.68" y="163.0" width="5.1" height="3.0" fill="#a52a2a"/>
<rect x="140.68" y="166.0" width="5.1" height="16.2" fill="#8a2be2"/>
<rect x="140.68" y="182.2" width="5.1" height="15.0" fill="#0000ff"/>
<rect x="151.10" y="125.4" width="5.1" height="26.0" fill="#008000"/>
<rect x="151.10" y="151.4" width="5.1" height="4.0" fill="#008b8b"/>
<rect x="151.10" y="155.4" width="5.1" height="2.0" fill="#d2691e"/>
<rect x="151.10" y="157.4" width="5.1" height="6.6" fill="#a52a2a"/>
<rect x="151.10" y="164.0" width="5.1" height="18.6" fill="#8a2be2"/>
<rect x="151.10" y="182.6" width="5.1" height="14.6" fill="#0000ff"/>
<rect x="161.52" y="121.0" width="5.1" height="28.0" fill="#008000"/>
<rect x="161.52" y="149.0" width="5.1" height="1.6" fill="#008b8b"/>
<rect x="161.52" y="150.6" width="5.1" height="2.2" fill="#d2691e"/>
<rect x="161.52" y="152.8" width="5.1" height="9.2" fill="#a52a2a"/>
<rect x="161.52" y="162.0" width="5.1" height="18.0" fill="#8a2be2"/>
<rect x="161.52" y="180.0" width="5.1" height="17.2" fill="#0000ff"/>
<rect x="171.94" y="131.0" width="5.1" height="22.0" fill="#008000"/>
<rect x="171.94" y="153.0" width="5.1" height="3.0" fill="#008b8b"/>
<rect x="171.94" y="156.0" width="5.1" height="2.6" fill="#d2691e"/>
<rect x="171.94" y="158.6" width="5.1" height="6.4" fill="#a52a2a"/>
<rect x="171.94" y="165.0" width="5.1" height="17.0" fill="#8a2be2"/>
<rect x="171.94" y="182.0" width="5.1" height="15.2" fill="#0000ff"/>
<rect x="182.36" y="127.0" width="5.1" height="27.0" fill="#008000"/>
<rect x="182.36" y="154.0" width="5.1" height="4.0" fill="#008b8b"/>
<rect x="182.36" y="158.0" width="5.1" height="2.3" fill="#d2691e"/>
<rect x="182.36" y="160.3" width="5.1" height="6.7" fill="#a52a2a"/>
<rect x="182.36" y="167.0" width="5.1" height="15.0" fill="#8a2be2"/>
<rect x="182.36" y="182.0" width="5.1" height="15.2" fill="#0000ff"/>
<rect x="192.78" y="124.6" width="5.1" height="27.0" fill="#008000"/>
<rect x="192.78" y="151.6" width="5.1" height="3.0" fill="#008b8b"/>
<rect x="192.78" y="154.6" width="5.1" height="1.4" fill="#d2691e"/>
<rect x="192.78" y="156.0" width="5.1" height="7.4" fill="#a52a2a"/>
<rect x="192.78" y="163.4" width="5.1" height="18.2" fill="#8a2be2"/>
<rect x="192.78" y="181.6" width="5.1" height="15.6" fill="#0000ff"/>
<rect x="203.20" y="133.4" width="5.1" height="22.6" fill="#008000"/>
<rect x="203.20" y="156.0" width="5.1" height="2.0" fill="#008b8b"/>
<rect x="203.20" y="158.0" width="5.1" height="1.5" fill="#d2691e"/>
<rect x="203.20" y="159.5" width="5.1" height="9.1" fill="#a52a2a"/>
<rect x="203.20" y="168.6" width="5.1" height="14.8" fill="#8a2be2"/>
<rect x="203.20" y="183.4" width="5.1" height="13.8" fill="#0000ff"/>
<rect x="213.62" y="134.6" width="5.1" height="22.4" fill="#008000"/>
<rect x="213.62" y="157.0" width="5.1" height="3.0" fill="#008b8b"/>
<rect x="213.62" y="160.0" width="5.1" height="2.5" fill="#d2691e"/>
<rect x="213.62" y="162.5" width="5.1" height="5.5" fill="#a52a2a"/>
<rect x="213.62" y="168.0" width="5.1" height="15.4" fill="#8a2be2"/>
<rect x="213.62" y="183.4" width="5.1" height="13.8" fill="#0000ff"/>
<rect x="224.04" y="125.0" width="5.1" height="28.0" fill="#008000"/>
<rect x="224.04" y="153.0" width="5.1" height="1.6" fill="#008b8b"/>
<rect x="224.04" y="154.6" width="5.1" height="4.4" fill="#d2691e"/>
<rect x="224.04" y="159.0" width="5.1" height="4.0" fill="#a52a2a"/>
<rect x="224.04" y="163.0" width="5.1" height="19.0" fill="#8a2be2"/>
<rect x="224.04" y="182.0" width="5.1" height="15.2" fill="#0000ff"/>
<rect x="234.46" y="131.0" width="5.1" height="24.0" fill="#008000"/>
<rect x="234.46" y="155.0" width="5.1" height="3.6" fill="#008b8b"/>
<rect x="234.46" y="158.6" width="5.1" height="2.4" fill="#d2691e"/>
<rect x="234.46" y="161.0" width="5.1" height="3.4" fill="#a52a2a"/>
<rect x="234.46" y="164.4" width="5.1" height="18.2" fill="#8a2be2"/>
<rect x="234.46" y="182.6" width="5.1" height="14.6" fill="#0000ff"/>
<rect x="244.88" y="123.6" width="5.1" height="25.8" fill="#008000"/>
<rect x="244.88" y="149.4" width="5.1" height="4.6" fill="#008b8b"/>
<rect x="244.88" y="154.0" width="5.1" height="2.6" fill="#d2691e"/>
<rect x="244.88" y="156.6" width="5.1" height="8.4" fill="#a52a2a"/>
<rect x="244.88" y="165.0" width="5.1" height="17.6" fill="#8a2be2"/>
<rect x="244.88" y="182.6" width="5.1" height="14.6" fill="#0000ff"/>
<rect x="255.30" y="127.6" width="5.1" height="24.0" fill="#008000"/>
<rect x="255.30" y="151.6" width="5.1" height="4.0" fill="#008b8b"/>
<rect x="255.30" y="155.6" width="5.1" height="2.4" fill="#d2691e"/>
<rect x="255.30" y="158.0" width="5.1" height="5.4" fill="#a52a2a"/>
<rect x="255.30" y="163.4" width="5.1" height="19.0" fill="#8a2be2"/>
<rect x="255.30" y="182.4" width="5.1" height="14.8" fill="#0000ff"/>
<rect x="265.72" y="129.4" width="5.1" height="26.2" fill="#008000"/>
<rect x="265.72" y="155.6" width="5.1" height="1.8" fill="#008b8b"/>
<rect x="265.72" y="157.4" width="5.1" height="2.4" fill="#d2691e"/>
<rect x="265.72" y="159.8" width="5.1" height="5.6" fill="#a52a2a"/>
<rect x="265.72" y="165.4" width="5.1" height="17.6" fill="#8a2be2"/>
<rect x="265.72" y="183.0" width="5.1" height="14.2" fill="#0000ff"/>
<rect x="276.14" y="126.0" width="5.1" height="25.0" fill="#008000"/>
<rect x="276.14" y="151.0" width="5.1" height="2.4" fill="#008b8b"/>
<rect x="276.14" y="153.4" width="5.1" height="2.4" fill="#d2691e"/>
<rect x="276.14" y="155.8" width="5.1" height="8.6" fill="#a52a2a"/>
<rect x="276.14" y="164.4" width="5.1" height="17.6" fill="#8a2be2"/>
<rect x="276.14" y="182.0" width="5.1" height="15.2" fill="#0000ff"/>
<rect x="286.56" y="125.0" width="5.1" height="25.4" fill="#008000"/>
<rect x="286.56" y="150.4" width="5.1" height="4.2" fill="#008b8b"/>
<rect x="286.56" y="154.6" width="5.1" height="3.2" fill="#d2691e"/>
<rect x="286.56" y="157.8" width="5.1" height="7.6" fill="#a52a2a"/>
<rect x="286.56" y="165.4" width="5.1" height="17.6" fill="#8a2be2"/>
<rect x="286.56" y="183.0" width="5.1" height="14.2" fill="#0000ff"/>
<rect x="296.98" y="139.4" width="5.1" height="23.2" fill="#008000"/>
<rect x="296.98" y="162.6" width="5.1" height="4.8" fill="#008b8b"/>
<rect x="296.98" y="167.4" width="5.1" height="2.0" fill="#d2691e"/>
<rect x="296.98" y="169.4" width="5.1" height="2.6" fill="#a52a2a"/>
<rect x="296.98" y="172.0" width="5.1" height="12.6" fill="#8a2be2"/>
<rect x="296.98" y="184.6" width="5.1" height="12.6" fill="#0000ff"/>
<rect x="307.40" y="127.0" width="5.1" height="26.0" fill="#008000"/>
<rect x="307.40" y="153.0" width="5.1" height="4.0" fill="#008b8b"/>
<rect x="307.40" y="157.0" width="5.1" height="3.0" fill="#d2691e"/>
<rect x="307.40" y="160.0" width="5.1" height="5.4" fill="#a52a2a"/>
<rect x="307.40" y="165.4" width="5.1" height="15.6" fill="#8a2be2"/>
<rect x="307.40" y="181.0" width="5.1" height="16.2" fill="#0000ff"/>
<rect x="317.82" y="133.5" width="5.1" height="24.5" fill="#008000"/>
<rect x="317.82" y="158.0" width="5.1" height="2.0" fill="#008b8b"/>
<rect x="317.82" y="160.0" width="5.1" height="2.4" fill="#d2691e"/>
<rect x="317.82" y="162.4" width="5.1" height="4.6" fill="#a52a2a"/>
<rect x="317.82" y="167.0" width="5.1" height="16.4" fill="#8a2be2"/>
<rect x="317.82" y="183.4" width="5.1" height="13.8" fill="#0000ff"/>
<rect x="328.24" y="135.0" width="5.1" height="22.2" fill="#008000"/>
<rect x="328.24" y="157.2" width="5.1" height="4.0" fill="#008b8b"/>
<rect x="328.24" y="161.2" width="5.1" height="1.8" fill="#d2691e"/>
<rect x="328.24" y="163.0" width="5.1" height="7.2" fill="#a52a2a"/>
<rect x="328.24" y="170.2" width="5.1" height="14.2" fill="#8a2be2"/>
<rect x="328.24" y="184.4" width="5.1" height="12.8" fill="#0000ff"/>
<rect x="338.66" y="136.0" width="5.1" height="22.2" fill="#008000"/>
<rect x="338.66" y="158.2" width="5.1" height="2.0" fill="#008b8b"/>
<rect x="338.66" y="160.2" width="5.1" height="1.8" fill="#d2691e"/>
<rect x="338.66" y="162.0" width="5.1" height="4.6" fill="#a52a2a"/>
<rect x="338.66" y="166.6" width="5.1" height="16.0" fill="#8a2be2"/>
<rect x="338.66" y="182.6" width="5.1" height="14.6" fill="#0000ff"/>
<rect x="349.08" y="134.6" width="5.1" height="23.1" fill="#008000"/>
<rect x="349.08" y="157.7" width="5.1" height="2.8" fill="#008b8b"/>
<rect x="349.08" y="160.5" width="5.1" height="1.9" fill="#d2691e"/>
<rect x="349.08" y="162.4" width="5.1" height="7.0" fill="#a52a2a"/>
<rect x="349.08" y="169.4" width="5.1" height="14.6" fill="#8a2be2"/>
<rect x="349.08" y="184.0" width="5.1" height="13.2" fill="#0000ff"/>
<rect x="359.50" y="136.4" width="5.1" height="19.6" fill="#008000"/>
<rect x="359.50" y="156.0" width="5.1" height="3.0" fill="#008b8b"/>
<rect x="359.50" y="159.0" width="5.1" height="1.6" fill="#d2691e"/>
<rect x="359.50" y="160.6" width="5.1" height="6.4" fill="#a52a2a"/>
<rect x="359.50" y="167.0" width="5.1" height="17.0" fill="#8a2be2"/>
<rect x="359.50" y="184.0" width="5.1" height="13.2" fill="#0000ff"/>
<rect x="369.92" y="146.6" width="5.1" height="20.0" fill="#008000"/>
<rect x="369.92" y="166.6" width="5.1" height="2.4" fill="#008b8b"/>
<rect x="369.92" y="169.0" width="5.1" height="1.6" fill="#d2691e"/>
<rect x="369.92" y="170.6" width="5.1" height="3.4" fill="#a52a2a"/>
<rect x="369.92" y="174.0" width="5.1" height="14.0" fill="#8a2be2"/>
<rect x="369.92" y="188.0" width="5.1" height="9.2" fill="#0000ff"/>
<rect x="380.34" y="143.0" width="5.1" height="22.0" fill="#008000"/>
<rect x="380.34" y="165.0" width="5.1" height="1.6" fill="#008b8b"/>
<rect x="380.34" y="166.6" width="5.1" height="1.4" fill="#d2691e"/>
<rect x="380.34" y="168.0" width="5.1" height="6.0" fill="#a52a2a"/>
<rect x="380.34" y="174.0" width="5.1" height="12.4" fill="#8a2be2"/>
<rect x="380.34" y="186.4" width="5.1" height="10.8" fill="#0000ff"/>
<path d="M44.4,120.6 V197.4 H388" fill="none" stroke="#222" stroke-width="0.6"/>
<path d="M43,196.9 H45.8 M43,188.4 H45.8 M43,180.0 H45.8 M43,171.5 H45.8 M43,163.0 H45.8 M43,154.6 H45.8 M43,146.1 H45.8 M43,137.6 H45.8 M43,129.1 H45.8 M43,120.7 H45.8 M43.8,196.9 H45 M43.8,195.2 H45 M43.8,193.5 H45 M43.8,191.8 H45 M43.8,190.1 H45 M43.8,188.4 H45 M43.8,186.7 H45 M43.8,185.0 H45 M43.8,183.3 H45 M43.8,181.7 H45 M43.8,180.0 H45 M43.8,178.3 H45 M43.8,176.6 H45 M43.8,174.9 H45 M43.8,173.2 H45 M43.8,171.5 H45 M43.8,169.8 H45 M43.8,168.1 H45 M43.8,166.4 H45 M43.8,164.7 H45 M43.8,163.0 H45 M43.8,161.3 H45 M43.8,159.6 H45 M43.8,157.9 H45 M43.8,156.2 H45 M43.8,154.6 H45 M43.8,152.9 H45 M43.8,151.2 H45 M43.8,149.5 H45 M43.8,147.8 H45 M43.8,146.1 H45 M43.8,144.4 H45 M43.8,142.7 H45 M43.8,141.0 H45 M43.8,139.3 H45 M43.8,137.6 H45 M43.8,135.9 H45 M43.8,134.2 H45 M43.8,132.5 H45 M43.8,130.8 H45 M43.8,129.1 H45 M43.8,127.4 H45 M43.8,125.8 H45 M43.8,124.1 H45 M43.8,122.4 H45 M49.4,197.4 V198.8 M59.9,197.4 V198.8 M70.3,197.4 V198.8 M80.7,197.4 V198.8 M91.1,197.4 V198.8 M101.5,197.4 V198.8 M112.0,197.4 V198.8 M122.4,197.4 V198.8 M132.8,197.4 V198.8 M143.2,197.4 V198.8 M153.7,197.4 V198.8 M164.1,197.4 V198.8 M174.5,197.4 V198.8 M184.9,197.4 V198.8 M195.3,197.4 V198.8 M205.8,197.4 V198.8 M216.2,197.4 V198.8 M226.6,197.4 V198.8 M237.0,197.4 V198.8 M247.4,197.4 V198.8 M257.9,197.4 V198.8 M268.3,197.4 V198.8 M278.7,197.4 V198.8 M289.1,197.4 V198.8 M299.5,197.4 V198.8 M309.9,197.4 V198.8 M320.4,197.4 V198.8 M330.8,197.4 V198.8 M341.2,197.4 V198.8 M351.6,197.4 V198.8 M362.1,197.4 V198.8 M372.5,197.4 V198.8 M382.9,197.4 V198.8" fill="none" stroke="#222" stroke-width="0.4"/>
<text x="33.9" y="199.0" font-size="6.2" text-anchor="middle" fill="#333">0</text>
<text x="33.9" y="190.5" font-size="6.2" text-anchor="middle" fill="#333">0.1</text>
<text x="33.9" y="182.1" font-size="6.2" text-anchor="middle" fill="#333">0.2</text>
<text x="33.9" y="173.6" font-size="6.2" text-anchor="middle" fill="#333">0.3</text>
<text x="33.9" y="165.1" font-size="6.2" text-anchor="middle" fill="#333">0.4</text>
<text x="33.9" y="156.7" font-size="6.2" text-anchor="middle" fill="#333">0.5</text>
<text x="33.9" y="148.2" font-size="6.2" text-anchor="middle" fill="#333">0.6</text>
<text x="33.9" y="139.7" font-size="6.2" text-anchor="middle" fill="#333">0.7</text>
<text x="33.9" y="131.2" font-size="6.2" text-anchor="middle" fill="#333">0.8</text>
<text x="33.9" y="122.8" font-size="6.2" text-anchor="middle" fill="#333">0.9</text>
<text transform="translate(50.9,201.6) rotate(-90)" text-anchor="end" font-size="4.5" fill="#111">Library</text>
<text transform="translate(61.4,201.6) rotate(-90)" text-anchor="end" font-size="4.5" fill="#111">Sample_1</text>
<text transform="translate(71.8,201.6) rotate(-90)" text-anchor="end" font-size="4.5" fill="#111">Sample_2</text>
<text transform="translate(82.2,201.6) rotate(-90)" text-anchor="end" font-size="4.5" fill="#111">Sample_3</text>
<text transform="translate(92.6,201.6) rotate(-90)" text-anchor="end" font-size="4.5" fill="#111">Sample_4</text>
<text transform="translate(103.0,201.6) rotate(-90)" text-anchor="end" font-size="4.5" fill="#111">Sample_5</text>
<text transform="translate(113.5,201.6) rotate(-90)" text-anchor="end" font-size="4.5" fill="#111">Sample_6</text>
<text transform="translate(123.9,201.6) rotate(-90)" text-anchor="end" font-size="4.5" fill="#111">Sample_7</text>
<text transform="translate(134.3,201.6) rotate(-90)" text-anchor="end" font-size="4.5" fill="#111">Sample_8</text>
<text transform="translate(144.7,201.6) rotate(-90)" text-anchor="end" font-size="4.5" fill="#111">Sample_9</text>
<text transform="translate(155.2,201.6) rotate(-90)" text-anchor="end" font-size="4.5" fill="#111">Sample_10</text>
<text transform="translate(165.6,201.6) rotate(-90)" text-anchor="end" font-size="4.5" fill="#111">Sample_11</text>
<text transform="translate(176.0,201.6) rotate(-90)" text-anchor="end" font-size="4.5" fill="#111">Sample_12</text>
<text transform="translate(186.4,201.6) rotate(-90)" text-anchor="end" font-size="4.5" fill="#111">Sample_13</text>
<text transform="translate(196.8,201.6) rotate(-90)" text-anchor="end" font-size="4.5" fill="#111">Sample_14</text>
<text transform="translate(207.3,201.6) rotate(-90)" text-anchor="end" font-size="4.5" fill="#111">Sample_15</text>
<text transform="translate(217.7,201.6) rotate(-90)" text-anchor="end" font-size="4.5" fill="#111">Sample_16</text>
<text transform="translate(228.1,201.6) rotate(-90)" text-anchor="end" font-size="4.5" fill="#111">Sample_17</text>
<text transform="translate(238.5,201.6) rotate(-90)" text-anchor="end" font-size="4.5" fill="#111">Sample_18</text>
<text transform="translate(248.9,201.6) rotate(-90)" text-anchor="end" font-size="4.5" fill="#111">Sample_19</text>
<text transform="translate(259.4,201.6) rotate(-90)" text-anchor="end" font-size="4.5" fill="#111">Sample_20</text>
<text transform="translate(269.8,201.6) rotate(-90)" text-anchor="end" font-size="4.5" fill="#111">Sample_21</text>
<text transform="translate(280.2,201.6) rotate(-90)" text-anchor="end" font-size="4.5" fill="#111">Sample_22</text>
<text transform="translate(290.6,201.6) rotate(-90)" text-anchor="end" font-size="4.5" fill="#111">Sample_23</text>
<text transform="translate(301.0,201.6) rotate(-90)" text-anchor="end" font-size="4.5" fill="#111">Sample_24</text>
<text transform="translate(311.4,201.6) rotate(-90)" text-anchor="end" font-size="4.5" fill="#111">Sample_25</text>
<text transform="translate(321.9,201.6) rotate(-90)" text-anchor="end" font-size="4.5" fill="#111">Sample_26</text>
<text transform="translate(332.3,201.6) rotate(-90)" text-anchor="end" font-size="4.5" fill="#111">Sample_27</text>
<text transform="translate(342.7,201.6) rotate(-90)" text-anchor="end" font-size="4.5" fill="#111">Sample_28</text>
<text transform="translate(353.1,201.6) rotate(-90)" text-anchor="end" font-size="4.5" fill="#111">Sample_29</text>
<text transform="translate(363.6,201.6) rotate(-90)" text-anchor="end" font-size="4.5" fill="#111">Sample_30</text>
<text transform="translate(374.0,201.6) rotate(-90)" text-anchor="end" font-size="4.5" fill="#111">Sample_31</text>
<text transform="translate(384.4,201.6) rotate(-90)" text-anchor="end" font-size="4.5" fill="#111">Sample_32</text>
<text transform="translate(21.1,188.9) rotate(-90)" font-size="7.8" textLength="59.5" lengthAdjust="spacingAndGlyphs">Peak Area (10^6)</text>
<text x="205" y="235.6" font-size="7.2" textLength="28" lengthAdjust="spacingAndGlyphs">Samples</text>
<text x="342.2" y="120.2" font-size="8.6" textLength="32.2" lengthAdjust="spacingAndGlyphs">CV = 8%</text>
<rect x="4" y="228.6" width="139.6" height="19.6" fill="#fff" stroke="#777" stroke-width="0.5"/>
<path d="M5.8,232.5 H17.4" stroke="#0000ff" stroke-width="0.7" fill="none"/>
<text x="21.0" y="234.2" font-size="4.75" textLength="49.2" lengthAdjust="spacingAndGlyphs" fill="#333">y7 - 858.4447+ (heavy)</text>
<path d="M5.8,238.3 H17.4" stroke="#a52a2a" stroke-width="0.7" fill="none"/>
<text x="21.0" y="240.0" font-size="4.75" textLength="49.2" lengthAdjust="spacingAndGlyphs" fill="#333">y5 - 580.3544+ (heavy)</text>
<path d="M5.8,244.1 H17.4" stroke="#4fb5b5" stroke-width="0.7" fill="none"/>
<text x="21.0" y="245.8" font-size="4.75" textLength="49.2" lengthAdjust="spacingAndGlyphs" fill="#333">y3 - 365.2638+ (heavy)</text>
<path d="M75.2,232.5 H86.8" stroke="#8a2be2" stroke-width="0.7" fill="none"/>
<text x="90.6" y="234.2" font-size="4.75" textLength="49.2" lengthAdjust="spacingAndGlyphs" fill="#333">y6 - 695.3814+ (heavy)</text>
<path d="M75.2,238.3 H86.8" stroke="#d2691e" stroke-width="0.7" fill="none"/>
<text x="90.6" y="240.0" font-size="4.75" textLength="49.2" lengthAdjust="spacingAndGlyphs" fill="#333">y4 - 466.3115+ (heavy)</text>
<path d="M75.2,244.1 H86.8" stroke="#3a9a3a" stroke-width="0.7" fill="none"/>
<text x="90.6" y="245.8" font-size="4.75" textLength="49.2" lengthAdjust="spacingAndGlyphs" fill="#333">y2 - 252.1798+ (heavy)</text>
<rect x="428.2" y="141.8" width="15.7" height="22.9" fill="#008000"/>
<rect x="428.2" y="164.7" width="15.7" height="1.9" fill="#008b8b"/>
<rect x="428.2" y="166.6" width="15.7" height="4.9" fill="#a52a2a"/>
<rect x="428.2" y="171.5" width="15.7" height="16.7" fill="#8a2be2"/>
<rect x="428.2" y="188.2" width="15.7" height="20.9" fill="#0000ff"/>
<rect x="459.6" y="145.0" width="15.7" height="24.3" fill="#008000"/>
<rect x="459.6" y="169.3" width="15.7" height="2.8" fill="#008b8b"/>
<rect x="459.6" y="172.1" width="15.7" height="2.3" fill="#d2691e"/>
<rect x="459.6" y="174.4" width="15.7" height="5.6" fill="#a52a2a"/>
<rect x="459.6" y="180.0" width="15.7" height="15.1" fill="#8a2be2"/>
<rect x="459.6" y="195.1" width="15.7" height="14.0" fill="#0000ff"/>
<rect x="490.8" y="144.5" width="15.7" height="23.5" fill="#008000"/>
<rect x="490.8" y="168.0" width="15.7" height="2.7" fill="#008b8b"/>
<rect x="490.8" y="170.7" width="15.7" height="3.0" fill="#d2691e"/>
<rect x="490.8" y="173.7" width="15.7" height="6.1" fill="#a52a2a"/>
<rect x="490.8" y="179.8" width="15.7" height="15.3" fill="#8a2be2"/>
<rect x="490.8" y="195.1" width="15.7" height="14.0" fill="#0000ff"/>
<rect x="522.3" y="141.8" width="15.7" height="24.2" fill="#008000"/>
<rect x="522.3" y="166.0" width="15.7" height="3.0" fill="#008b8b"/>
<rect x="522.3" y="169.0" width="15.7" height="2.8" fill="#d2691e"/>
<rect x="522.3" y="171.8" width="15.7" height="6.0" fill="#a52a2a"/>
<rect x="522.3" y="177.8" width="15.7" height="16.7" fill="#8a2be2"/>
<rect x="522.3" y="194.5" width="15.7" height="14.6" fill="#0000ff"/>
<path d="M420.5,125.4 V209.3 H550" fill="none" stroke="#222" stroke-width="0.6"/>
<text x="409.7" y="211.6" font-size="7" text-anchor="middle" fill="#222">0</text>
<text x="409.7" y="194.9" font-size="7" text-anchor="middle" fill="#222">0.2</text>
<text x="409.7" y="178.1" font-size="7" text-anchor="middle" fill="#222">0.4</text>
<text x="409.7" y="161.4" font-size="7" text-anchor="middle" fill="#222">0.6</text>
<text x="409.7" y="144.6" font-size="7" text-anchor="middle" fill="#222">0.8</text>
<text x="409.7" y="127.9" font-size="7" text-anchor="middle" fill="#222">1</text>
<path d="M418.8,209.1 H422.2 M418.8,192.4 H422.2 M418.8,175.6 H422.2 M418.8,158.9 H422.2 M418.8,142.1 H422.2 M418.8,125.4 H422.2 M419.6,209.1 H421.4 M419.6,204.9 H421.4 M419.6,200.7 H421.4 M419.6,196.5 H421.4 M419.6,192.4 H421.4 M419.6,188.2 H421.4 M419.6,184.0 H421.4 M419.6,179.8 H421.4 M419.6,175.6 H421.4 M419.6,171.4 H421.4 M419.6,167.2 H421.4 M419.6,163.1 H421.4 M419.6,158.9 H421.4 M419.6,154.7 H421.4 M419.6,150.5 H421.4 M419.6,146.3 H421.4 M419.6,142.1 H421.4 M419.6,138.0 H421.4 M419.6,133.8 H421.4 M419.6,129.6 H421.4 M419.6,125.4 H421.4 M436.1,209.3 V211.2 M467.5,209.3 V211.2 M498.7,209.3 V211.2 M530.1,209.3 V211.2" fill="none" stroke="#222" stroke-width="0.45"/>
<text x="426.8" y="221.9" font-size="7.5" textLength="23.1" lengthAdjust="spacingAndGlyphs">Library</text>
<text x="456" y="221.9" font-size="7.5" textLength="24" lengthAdjust="spacingAndGlyphs">Control</text>
<text x="492.8" y="221.9" font-size="7.5" textLength="15.7" lengthAdjust="spacingAndGlyphs">MG1</text>
<text x="520.2" y="221.9" font-size="7.5" textLength="21.8" lengthAdjust="spacingAndGlyphs">MG2/3</text>
<text x="459.2" y="129.5" font-size="7.7" textLength="15.4" lengthAdjust="spacingAndGlyphs">Dotp</text>
<text x="459.2" y="138.6" font-size="7.7" textLength="14.4" lengthAdjust="spacingAndGlyphs">0.89</text>
<text x="491" y="128.6" font-size="7.7" textLength="15.4" lengthAdjust="spacingAndGlyphs">Dotp</text>
<text x="491" y="137.7" font-size="7.7" textLength="14.4" lengthAdjust="spacingAndGlyphs">0.89</text>
<text x="522.7" y="126.3" font-size="7.7" textLength="15.4" lengthAdjust="spacingAndGlyphs">Dotp</text>
<text x="522.7" y="135.4" font-size="7.7" textLength="14.4" lengthAdjust="spacingAndGlyphs">0.89</text>
<text transform="translate(398.9,199.4) rotate(-90)" font-size="6.2" font-weight="bold" textLength="64.4" lengthAdjust="spacingAndGlyphs">Peak Area (10^6)</text>
</svg></body></html>
